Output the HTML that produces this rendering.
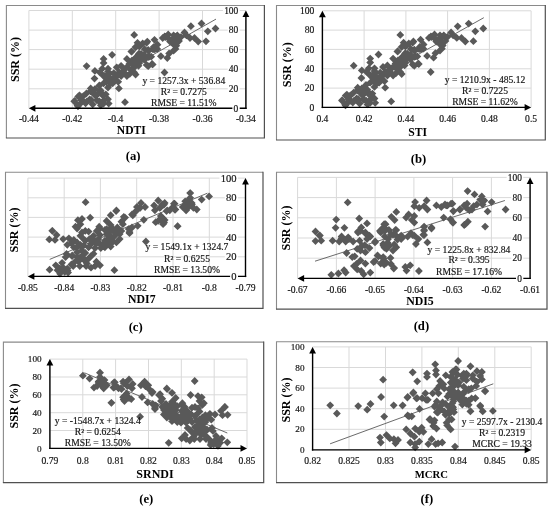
<!DOCTYPE html>
<html><head><meta charset="utf-8"><title>SSR scatter plots</title>
<style>
html,body{margin:0;padding:0;background:#fff}
svg{display:block}
text{font-family:"Liberation Serif",serif}
.t{font-size:9.6px;fill:#151515;stroke:#151515;stroke-width:0.18px}
.e{font-size:9.6px;fill:#151515;stroke:#151515;stroke-width:0.18px}
.b{font-size:12px;font-weight:bold;fill:#000}
</style></head><body>
<svg width="550" height="508" viewBox="0 0 550 508">
<rect width="550" height="508" fill="#fff"/>
<g id="panel-a">
<path d="M6.4 138.0V5.5H264.4" fill="none" stroke="#8a8a8a" stroke-width="1.1"/>
<path d="M264.4 5.0V138.0H5.9" fill="none" stroke="#505050" stroke-width="1.2"/>
<path d="M28.9 10.5V108.3M72.3 10.5V108.3M115.7 10.5V108.3M159.1 10.5V108.3M202.5 10.5V108.3M245.9 10.5V108.3M28.9 108.3H245.9M28.9 88.8H245.9M28.9 69.2H245.9M28.9 49.6H245.9M28.9 30.1H245.9M28.9 10.5H245.9" stroke="#d9d9d9" stroke-width="1" fill="none"/>
<line x1="74.5" y1="99.2" x2="216.0" y2="19.1" stroke="#595959" stroke-width="0.9"/>
<path d="M86.6 62.2l3.9 3.9l-3.9 3.9l-3.9 -3.9zM125.0 98.3l3.9 3.9l-3.9 3.9l-3.9 -3.9zM118.9 84.5l3.9 3.9l-3.9 3.9l-3.9 -3.9zM94.5 74.7l3.9 3.9l-3.9 3.9l-3.9 -3.9zM94.9 67.0l3.9 3.9l-3.9 3.9l-3.9 -3.9zM74.5 97.1l3.9 3.9l-3.9 3.9l-3.9 -3.9zM78.2 92.5l3.9 3.9l-3.9 3.9l-3.9 -3.9zM77.5 101.5l3.9 3.9l-3.9 3.9l-3.9 -3.9zM83.3 92.2l3.9 3.9l-3.9 3.9l-3.9 -3.9zM81.8 98.3l3.9 3.9l-3.9 3.9l-3.9 -3.9zM86.9 97.6l3.9 3.9l-3.9 3.9l-3.9 -3.9zM91.3 96.1l3.9 3.9l-3.9 3.9l-3.9 -3.9zM90.5 87.4l3.9 3.9l-3.9 3.9l-3.9 -3.9zM94.9 85.2l3.9 3.9l-3.9 3.9l-3.9 -3.9zM96.4 91.7l3.9 3.9l-3.9 3.9l-3.9 -3.9zM99.3 97.6l3.9 3.9l-3.9 3.9l-3.9 -3.9zM103.6 99.7l3.9 3.9l-3.9 3.9l-3.9 -3.9zM108.7 99.7l3.9 3.9l-3.9 3.9l-3.9 -3.9zM108.0 95.4l3.9 3.9l-3.9 3.9l-3.9 -3.9zM103.6 91.0l3.9 3.9l-3.9 3.9l-3.9 -3.9zM100.7 86.6l3.9 3.9l-3.9 3.9l-3.9 -3.9zM99.3 81.6l3.9 3.9l-3.9 3.9l-3.9 -3.9zM103.6 79.4l3.9 3.9l-3.9 3.9l-3.9 -3.9zM108.0 83.7l3.9 3.9l-3.9 3.9l-3.9 -3.9zM110.9 79.4l3.9 3.9l-3.9 3.9l-3.9 -3.9zM115.3 76.5l3.9 3.9l-3.9 3.9l-3.9 -3.9zM118.2 77.9l3.9 3.9l-3.9 3.9l-3.9 -3.9zM103.6 72.1l3.9 3.9l-3.9 3.9l-3.9 -3.9zM102.2 64.8l3.9 3.9l-3.9 3.9l-3.9 -3.9zM108.0 64.8l3.9 3.9l-3.9 3.9l-3.9 -3.9zM108.0 70.6l3.9 3.9l-3.9 3.9l-3.9 -3.9zM113.8 69.2l3.9 3.9l-3.9 3.9l-3.9 -3.9zM118.2 70.6l3.9 3.9l-3.9 3.9l-3.9 -3.9zM122.5 67.7l3.9 3.9l-3.9 3.9l-3.9 -3.9zM126.9 72.1l3.9 3.9l-3.9 3.9l-3.9 -3.9zM131.3 66.3l3.9 3.9l-3.9 3.9l-3.9 -3.9zM134.2 68.5l3.9 3.9l-3.9 3.9l-3.9 -3.9zM126.9 63.4l3.9 3.9l-3.9 3.9l-3.9 -3.9zM121.1 61.9l3.9 3.9l-3.9 3.9l-3.9 -3.9zM103.6 59.0l3.9 3.9l-3.9 3.9l-3.9 -3.9zM138.5 61.9l3.9 3.9l-3.9 3.9l-3.9 -3.9zM132.7 60.5l3.9 3.9l-3.9 3.9l-3.9 -3.9zM116.7 63.4l3.9 3.9l-3.9 3.9l-3.9 -3.9zM134.2 31.0l3.9 3.9l-3.9 3.9l-3.9 -3.9zM112.1 50.9l3.9 3.9l-3.9 3.9l-3.9 -3.9zM103.6 55.0l3.9 3.9l-3.9 3.9l-3.9 -3.9zM135.6 43.4l3.9 3.9l-3.9 3.9l-3.9 -3.9zM131.3 47.7l3.9 3.9l-3.9 3.9l-3.9 -3.9zM138.5 50.6l3.9 3.9l-3.9 3.9l-3.9 -3.9zM126.9 55.0l3.9 3.9l-3.9 3.9l-3.9 -3.9zM190.9 22.3l3.9 3.9l-3.9 3.9l-3.9 -3.9zM201.5 19.6l3.9 3.9l-3.9 3.9l-3.9 -3.9zM207.8 27.4l3.9 3.9l-3.9 3.9l-3.9 -3.9zM215.5 24.6l3.9 3.9l-3.9 3.9l-3.9 -3.9zM206.0 37.4l3.9 3.9l-3.9 3.9l-3.9 -3.9zM198.2 37.7l3.9 3.9l-3.9 3.9l-3.9 -3.9zM194.5 34.1l3.9 3.9l-3.9 3.9l-3.9 -3.9zM190.0 34.1l3.9 3.9l-3.9 3.9l-3.9 -3.9zM184.5 28.6l3.9 3.9l-3.9 3.9l-3.9 -3.9zM186.4 31.4l3.9 3.9l-3.9 3.9l-3.9 -3.9zM180.9 33.2l3.9 3.9l-3.9 3.9l-3.9 -3.9zM177.3 31.4l3.9 3.9l-3.9 3.9l-3.9 -3.9zM173.6 31.4l3.9 3.9l-3.9 3.9l-3.9 -3.9zM172.7 35.9l3.9 3.9l-3.9 3.9l-3.9 -3.9zM168.2 30.5l3.9 3.9l-3.9 3.9l-3.9 -3.9zM165.5 33.2l3.9 3.9l-3.9 3.9l-3.9 -3.9zM162.7 34.1l3.9 3.9l-3.9 3.9l-3.9 -3.9zM177.3 38.6l3.9 3.9l-3.9 3.9l-3.9 -3.9zM173.6 40.5l3.9 3.9l-3.9 3.9l-3.9 -3.9zM170.0 37.7l3.9 3.9l-3.9 3.9l-3.9 -3.9zM154.5 35.9l3.9 3.9l-3.9 3.9l-3.9 -3.9zM153.6 43.2l3.9 3.9l-3.9 3.9l-3.9 -3.9zM147.3 37.7l3.9 3.9l-3.9 3.9l-3.9 -3.9zM142.7 39.6l3.9 3.9l-3.9 3.9l-3.9 -3.9zM148.2 45.9l3.9 3.9l-3.9 3.9l-3.9 -3.9zM157.3 45.0l3.9 3.9l-3.9 3.9l-3.9 -3.9zM160.9 52.3l3.9 3.9l-3.9 3.9l-3.9 -3.9zM167.3 54.1l3.9 3.9l-3.9 3.9l-3.9 -3.9zM169.1 49.6l3.9 3.9l-3.9 3.9l-3.9 -3.9zM173.6 46.8l3.9 3.9l-3.9 3.9l-3.9 -3.9zM175.5 45.0l3.9 3.9l-3.9 3.9l-3.9 -3.9zM135.5 43.2l3.9 3.9l-3.9 3.9l-3.9 -3.9zM131.8 47.7l3.9 3.9l-3.9 3.9l-3.9 -3.9zM139.1 49.6l3.9 3.9l-3.9 3.9l-3.9 -3.9zM144.5 51.4l3.9 3.9l-3.9 3.9l-3.9 -3.9zM148.2 53.2l3.9 3.9l-3.9 3.9l-3.9 -3.9zM140.9 55.0l3.9 3.9l-3.9 3.9l-3.9 -3.9zM137.3 58.6l3.9 3.9l-3.9 3.9l-3.9 -3.9zM131.8 56.8l3.9 3.9l-3.9 3.9l-3.9 -3.9zM148.2 62.3l3.9 3.9l-3.9 3.9l-3.9 -3.9zM152.7 60.5l3.9 3.9l-3.9 3.9l-3.9 -3.9zM164.5 68.6l3.9 3.9l-3.9 3.9l-3.9 -3.9zM133.6 64.1l3.9 3.9l-3.9 3.9l-3.9 -3.9zM124.0 68.5l3.9 3.9l-3.9 3.9l-3.9 -3.9zM129.8 69.9l3.9 3.9l-3.9 3.9l-3.9 -3.9zM132.7 64.8l3.9 3.9l-3.9 3.9l-3.9 -3.9zM135.6 70.6l3.9 3.9l-3.9 3.9l-3.9 -3.9zM121.1 72.1l3.9 3.9l-3.9 3.9l-3.9 -3.9zM125.5 64.8l3.9 3.9l-3.9 3.9l-3.9 -3.9zM113.8 73.6l3.9 3.9l-3.9 3.9l-3.9 -3.9zM109.5 76.5l3.9 3.9l-3.9 3.9l-3.9 -3.9zM109.9 73.9l3.9 3.9l-3.9 3.9l-3.9 -3.9zM106.2 77.6l3.9 3.9l-3.9 3.9l-3.9 -3.9zM99.7 68.4l3.9 3.9l-3.9 3.9l-3.9 -3.9zM104.3 72.1l3.9 3.9l-3.9 3.9l-3.9 -3.9zM108.0 67.5l3.9 3.9l-3.9 3.9l-3.9 -3.9zM122.9 63.8l3.9 3.9l-3.9 3.9l-3.9 -3.9zM119.2 68.4l3.9 3.9l-3.9 3.9l-3.9 -3.9zM115.5 73.0l3.9 3.9l-3.9 3.9l-3.9 -3.9zM112.7 79.4l3.9 3.9l-3.9 3.9l-3.9 -3.9zM135.7 53.7l3.9 3.9l-3.9 3.9l-3.9 -3.9zM141.2 50.0l3.9 3.9l-3.9 3.9l-3.9 -3.9zM144.8 55.5l3.9 3.9l-3.9 3.9l-3.9 -3.9zM148.4 47.2l3.9 3.9l-3.9 3.9l-3.9 -3.9zM138.4 59.2l3.9 3.9l-3.9 3.9l-3.9 -3.9zM90.3 96.9l3.9 3.9l-3.9 3.9l-3.9 -3.9zM99.7 97.8l3.9 3.9l-3.9 3.9l-3.9 -3.9zM94.9 91.3l3.9 3.9l-3.9 3.9l-3.9 -3.9zM102.5 91.3l3.9 3.9l-3.9 3.9l-3.9 -3.9zM82.7 96.9l3.9 3.9l-3.9 3.9l-3.9 -3.9zM129.3 60.1l3.9 3.9l-3.9 3.9l-3.9 -3.9zM151.2 52.8l3.9 3.9l-3.9 3.9l-3.9 -3.9zM154.8 45.4l3.9 3.9l-3.9 3.9l-3.9 -3.9zM139.4 42.7l3.9 3.9l-3.9 3.9l-3.9 -3.9zM144.8 45.4l3.9 3.9l-3.9 3.9l-3.9 -3.9zM141.2 50.9l3.9 3.9l-3.9 3.9l-3.9 -3.9zM136.6 54.6l3.9 3.9l-3.9 3.9l-3.9 -3.9zM143.9 55.5l3.9 3.9l-3.9 3.9l-3.9 -3.9zM149.4 52.8l3.9 3.9l-3.9 3.9l-3.9 -3.9zM139.4 59.2l3.9 3.9l-3.9 3.9l-3.9 -3.9zM146.6 61.0l3.9 3.9l-3.9 3.9l-3.9 -3.9zM152.1 60.1l3.9 3.9l-3.9 3.9l-3.9 -3.9zM137.5 38.9l3.9 3.9l-3.9 3.9l-3.9 -3.9zM146.6 38.9l3.9 3.9l-3.9 3.9l-3.9 -3.9zM164.7 32.6l3.9 3.9l-3.9 3.9l-3.9 -3.9zM170.1 36.2l3.9 3.9l-3.9 3.9l-3.9 -3.9zM174.5 33.5l3.9 3.9l-3.9 3.9l-3.9 -3.9zM179.0 37.1l3.9 3.9l-3.9 3.9l-3.9 -3.9zM176.3 41.8l3.9 3.9l-3.9 3.9l-3.9 -3.9zM157.5 40.8l3.9 3.9l-3.9 3.9l-3.9 -3.9zM153.0 45.4l3.9 3.9l-3.9 3.9l-3.9 -3.9zM74.2 97.4l3.9 3.9l-3.9 3.9l-3.9 -3.9zM78.0 102.4l3.9 3.9l-3.9 3.9l-3.9 -3.9zM81.5 96.4l3.9 3.9l-3.9 3.9l-3.9 -3.9zM79.5 91.4l3.9 3.9l-3.9 3.9l-3.9 -3.9zM85.6 99.4l3.9 3.9l-3.9 3.9l-3.9 -3.9zM89.7 95.4l3.9 3.9l-3.9 3.9l-3.9 -3.9zM86.5 89.4l3.9 3.9l-3.9 3.9l-3.9 -3.9zM92.7 100.5l3.9 3.9l-3.9 3.9l-3.9 -3.9zM96.8 96.4l3.9 3.9l-3.9 3.9l-3.9 -3.9zM100.8 101.4l3.9 3.9l-3.9 3.9l-3.9 -3.9zM103.9 96.4l3.9 3.9l-3.9 3.9l-3.9 -3.9zM94.7 90.4l3.9 3.9l-3.9 3.9l-3.9 -3.9zM99.8 87.5l3.9 3.9l-3.9 3.9l-3.9 -3.9zM90.7 84.5l3.9 3.9l-3.9 3.9l-3.9 -3.9zM105.8 90.4l3.9 3.9l-3.9 3.9l-3.9 -3.9z" fill="#595959"/>
<path d="M246.6 108.3H34.4" stroke="#000" stroke-width="1.4" fill="none"/>
<path d="M28.9 108.3l6.5 -3.4v6.8z" fill="#000"/>
<path d="M245.9 109.0V16.0" stroke="#000" stroke-width="1.4" fill="none"/>
<path d="M245.9 10.5l-3.4 6.5h6.8z" fill="#000"/>
<text x="28.9" y="122.0" text-anchor="middle" class="t">-0.44</text>
<text x="72.3" y="122.0" text-anchor="middle" class="t">-0.42</text>
<text x="115.7" y="122.0" text-anchor="middle" class="t">-0.4</text>
<text x="159.1" y="122.0" text-anchor="middle" class="t">-0.38</text>
<text x="202.5" y="122.0" text-anchor="middle" class="t">-0.36</text>
<text x="245.9" y="122.0" text-anchor="middle" class="t">-0.34</text>
<rect x="232.4" y="104.3" width="7.3" height="8" fill="#fff"/>
<text x="238.3" y="111.5" text-anchor="end" class="t" style="font-size:9.45px">0</text>
<rect x="227.7" y="84.8" width="12.0" height="8" fill="#fff"/>
<text x="238.3" y="91.9" text-anchor="end" class="t" style="font-size:9.45px">20</text>
<rect x="227.7" y="65.2" width="12.0" height="8" fill="#fff"/>
<text x="238.3" y="72.4" text-anchor="end" class="t" style="font-size:9.45px">40</text>
<rect x="227.7" y="45.6" width="12.0" height="8" fill="#fff"/>
<text x="238.3" y="52.8" text-anchor="end" class="t" style="font-size:9.45px">60</text>
<rect x="227.7" y="26.1" width="12.0" height="8" fill="#fff"/>
<text x="238.3" y="33.3" text-anchor="end" class="t" style="font-size:9.45px">80</text>
<rect x="222.9" y="6.5" width="16.8" height="8" fill="#fff"/>
<text x="238.3" y="13.7" text-anchor="end" class="t" style="font-size:9.45px">100</text>
<text x="131.3" y="133.5" text-anchor="middle" class="b" style="font-size:11.6px">NDTI</text>
<text transform="translate(18.8 59.5) rotate(-90)" text-anchor="middle" class="b">SSR (%)</text>
<text x="183.8" y="83.7" text-anchor="middle" class="e">y = 1257.3x + 536.84</text>
<text x="183.8" y="94.8" text-anchor="middle" class="e">R² = 0.7275</text>
<text x="183.8" y="105.9" text-anchor="middle" class="e">RMSE = 11.51%</text>
<text x="133.1" y="160.2" text-anchor="middle" class="b" style="font-size:12.7px">(a)</text>
</g>
<g id="panel-b">
<path d="M276.5 140.0V5.5H545.3" fill="none" stroke="#8a8a8a" stroke-width="1.1"/>
<path d="M545.3 5.0V140.0H276.0" fill="none" stroke="#505050" stroke-width="1.2"/>
<path d="M322.4 10.8V107.4M364.1 10.8V107.4M405.9 10.8V107.4M447.6 10.8V107.4M489.4 10.8V107.4M531.1 10.8V107.4M322.4 107.4H531.1M322.4 88.1H531.1M322.4 68.8H531.1M322.4 49.4H531.1M322.4 30.1H531.1M322.4 10.8H531.1" stroke="#d9d9d9" stroke-width="1" fill="none"/>
<line x1="346.4" y1="94.7" x2="483.8" y2="17.7" stroke="#595959" stroke-width="0.9"/>
<path d="M353.7 61.8l3.9 3.9l-3.9 3.9l-3.9 -3.9zM391.2 97.5l3.9 3.9l-3.9 3.9l-3.9 -3.9zM385.2 83.8l3.9 3.9l-3.9 3.9l-3.9 -3.9zM361.4 74.1l3.9 3.9l-3.9 3.9l-3.9 -3.9zM361.8 66.5l3.9 3.9l-3.9 3.9l-3.9 -3.9zM342.1 96.3l3.9 3.9l-3.9 3.9l-3.9 -3.9zM345.7 91.7l3.9 3.9l-3.9 3.9l-3.9 -3.9zM345.0 100.6l3.9 3.9l-3.9 3.9l-3.9 -3.9zM350.6 91.4l3.9 3.9l-3.9 3.9l-3.9 -3.9zM349.1 97.5l3.9 3.9l-3.9 3.9l-3.9 -3.9zM354.0 96.8l3.9 3.9l-3.9 3.9l-3.9 -3.9zM358.3 95.3l3.9 3.9l-3.9 3.9l-3.9 -3.9zM357.5 86.7l3.9 3.9l-3.9 3.9l-3.9 -3.9zM361.8 84.5l3.9 3.9l-3.9 3.9l-3.9 -3.9zM363.2 90.9l3.9 3.9l-3.9 3.9l-3.9 -3.9zM366.0 96.8l3.9 3.9l-3.9 3.9l-3.9 -3.9zM370.2 98.9l3.9 3.9l-3.9 3.9l-3.9 -3.9zM375.2 98.9l3.9 3.9l-3.9 3.9l-3.9 -3.9zM374.5 94.6l3.9 3.9l-3.9 3.9l-3.9 -3.9zM370.2 90.3l3.9 3.9l-3.9 3.9l-3.9 -3.9zM367.4 85.9l3.9 3.9l-3.9 3.9l-3.9 -3.9zM366.0 81.0l3.9 3.9l-3.9 3.9l-3.9 -3.9zM370.2 78.8l3.9 3.9l-3.9 3.9l-3.9 -3.9zM374.5 83.0l3.9 3.9l-3.9 3.9l-3.9 -3.9zM377.3 78.8l3.9 3.9l-3.9 3.9l-3.9 -3.9zM381.7 75.9l3.9 3.9l-3.9 3.9l-3.9 -3.9zM384.5 77.3l3.9 3.9l-3.9 3.9l-3.9 -3.9zM370.2 71.6l3.9 3.9l-3.9 3.9l-3.9 -3.9zM368.8 64.4l3.9 3.9l-3.9 3.9l-3.9 -3.9zM374.5 64.4l3.9 3.9l-3.9 3.9l-3.9 -3.9zM374.5 70.1l3.9 3.9l-3.9 3.9l-3.9 -3.9zM380.2 68.7l3.9 3.9l-3.9 3.9l-3.9 -3.9zM384.5 70.1l3.9 3.9l-3.9 3.9l-3.9 -3.9zM388.7 67.2l3.9 3.9l-3.9 3.9l-3.9 -3.9zM393.1 71.6l3.9 3.9l-3.9 3.9l-3.9 -3.9zM397.4 65.8l3.9 3.9l-3.9 3.9l-3.9 -3.9zM400.3 68.0l3.9 3.9l-3.9 3.9l-3.9 -3.9zM393.1 63.0l3.9 3.9l-3.9 3.9l-3.9 -3.9zM387.4 61.5l3.9 3.9l-3.9 3.9l-3.9 -3.9zM370.2 58.6l3.9 3.9l-3.9 3.9l-3.9 -3.9zM404.6 61.5l3.9 3.9l-3.9 3.9l-3.9 -3.9zM398.8 60.1l3.9 3.9l-3.9 3.9l-3.9 -3.9zM383.0 63.0l3.9 3.9l-3.9 3.9l-3.9 -3.9zM400.3 31.0l3.9 3.9l-3.9 3.9l-3.9 -3.9zM378.5 50.6l3.9 3.9l-3.9 3.9l-3.9 -3.9zM370.2 54.7l3.9 3.9l-3.9 3.9l-3.9 -3.9zM401.7 43.2l3.9 3.9l-3.9 3.9l-3.9 -3.9zM397.4 47.5l3.9 3.9l-3.9 3.9l-3.9 -3.9zM404.6 50.3l3.9 3.9l-3.9 3.9l-3.9 -3.9zM393.1 54.7l3.9 3.9l-3.9 3.9l-3.9 -3.9zM457.7 22.4l3.9 3.9l-3.9 3.9l-3.9 -3.9zM468.7 19.7l3.9 3.9l-3.9 3.9l-3.9 -3.9zM475.3 27.4l3.9 3.9l-3.9 3.9l-3.9 -3.9zM483.3 24.6l3.9 3.9l-3.9 3.9l-3.9 -3.9zM473.4 37.3l3.9 3.9l-3.9 3.9l-3.9 -3.9zM465.3 37.6l3.9 3.9l-3.9 3.9l-3.9 -3.9zM461.5 34.0l3.9 3.9l-3.9 3.9l-3.9 -3.9zM456.8 34.0l3.9 3.9l-3.9 3.9l-3.9 -3.9zM451.1 28.6l3.9 3.9l-3.9 3.9l-3.9 -3.9zM453.1 31.4l3.9 3.9l-3.9 3.9l-3.9 -3.9zM447.4 33.1l3.9 3.9l-3.9 3.9l-3.9 -3.9zM443.8 31.4l3.9 3.9l-3.9 3.9l-3.9 -3.9zM440.0 31.4l3.9 3.9l-3.9 3.9l-3.9 -3.9zM439.1 35.8l3.9 3.9l-3.9 3.9l-3.9 -3.9zM434.5 30.5l3.9 3.9l-3.9 3.9l-3.9 -3.9zM431.7 33.1l3.9 3.9l-3.9 3.9l-3.9 -3.9zM428.9 34.0l3.9 3.9l-3.9 3.9l-3.9 -3.9zM443.8 38.5l3.9 3.9l-3.9 3.9l-3.9 -3.9zM440.0 40.4l3.9 3.9l-3.9 3.9l-3.9 -3.9zM436.3 37.6l3.9 3.9l-3.9 3.9l-3.9 -3.9zM420.6 35.8l3.9 3.9l-3.9 3.9l-3.9 -3.9zM419.7 43.0l3.9 3.9l-3.9 3.9l-3.9 -3.9zM413.4 37.6l3.9 3.9l-3.9 3.9l-3.9 -3.9zM408.8 39.5l3.9 3.9l-3.9 3.9l-3.9 -3.9zM414.3 45.7l3.9 3.9l-3.9 3.9l-3.9 -3.9zM423.4 44.8l3.9 3.9l-3.9 3.9l-3.9 -3.9zM427.1 52.0l3.9 3.9l-3.9 3.9l-3.9 -3.9zM433.6 53.8l3.9 3.9l-3.9 3.9l-3.9 -3.9zM435.4 49.3l3.9 3.9l-3.9 3.9l-3.9 -3.9zM440.0 46.6l3.9 3.9l-3.9 3.9l-3.9 -3.9zM441.9 44.8l3.9 3.9l-3.9 3.9l-3.9 -3.9zM401.6 43.0l3.9 3.9l-3.9 3.9l-3.9 -3.9zM397.9 47.5l3.9 3.9l-3.9 3.9l-3.9 -3.9zM405.2 49.3l3.9 3.9l-3.9 3.9l-3.9 -3.9zM410.6 51.1l3.9 3.9l-3.9 3.9l-3.9 -3.9zM414.3 52.9l3.9 3.9l-3.9 3.9l-3.9 -3.9zM407.0 54.7l3.9 3.9l-3.9 3.9l-3.9 -3.9zM403.4 58.2l3.9 3.9l-3.9 3.9l-3.9 -3.9zM397.9 56.5l3.9 3.9l-3.9 3.9l-3.9 -3.9zM414.3 61.9l3.9 3.9l-3.9 3.9l-3.9 -3.9zM418.8 60.1l3.9 3.9l-3.9 3.9l-3.9 -3.9zM430.7 68.1l3.9 3.9l-3.9 3.9l-3.9 -3.9zM399.7 63.7l3.9 3.9l-3.9 3.9l-3.9 -3.9zM390.2 68.0l3.9 3.9l-3.9 3.9l-3.9 -3.9zM395.9 69.4l3.9 3.9l-3.9 3.9l-3.9 -3.9zM398.8 64.4l3.9 3.9l-3.9 3.9l-3.9 -3.9zM401.7 70.1l3.9 3.9l-3.9 3.9l-3.9 -3.9zM387.4 71.6l3.9 3.9l-3.9 3.9l-3.9 -3.9zM391.7 64.4l3.9 3.9l-3.9 3.9l-3.9 -3.9zM380.2 73.1l3.9 3.9l-3.9 3.9l-3.9 -3.9zM376.0 75.9l3.9 3.9l-3.9 3.9l-3.9 -3.9zM376.4 73.4l3.9 3.9l-3.9 3.9l-3.9 -3.9zM372.7 77.0l3.9 3.9l-3.9 3.9l-3.9 -3.9zM366.4 67.9l3.9 3.9l-3.9 3.9l-3.9 -3.9zM370.9 71.6l3.9 3.9l-3.9 3.9l-3.9 -3.9zM374.5 67.0l3.9 3.9l-3.9 3.9l-3.9 -3.9zM389.1 63.4l3.9 3.9l-3.9 3.9l-3.9 -3.9zM385.5 67.9l3.9 3.9l-3.9 3.9l-3.9 -3.9zM381.8 72.5l3.9 3.9l-3.9 3.9l-3.9 -3.9zM379.1 78.8l3.9 3.9l-3.9 3.9l-3.9 -3.9zM401.8 53.4l3.9 3.9l-3.9 3.9l-3.9 -3.9zM407.3 49.7l3.9 3.9l-3.9 3.9l-3.9 -3.9zM410.9 55.2l3.9 3.9l-3.9 3.9l-3.9 -3.9zM414.5 47.0l3.9 3.9l-3.9 3.9l-3.9 -3.9zM404.5 58.8l3.9 3.9l-3.9 3.9l-3.9 -3.9zM357.3 96.1l3.9 3.9l-3.9 3.9l-3.9 -3.9zM366.4 97.0l3.9 3.9l-3.9 3.9l-3.9 -3.9zM361.8 90.6l3.9 3.9l-3.9 3.9l-3.9 -3.9zM369.1 90.6l3.9 3.9l-3.9 3.9l-3.9 -3.9zM350.0 96.1l3.9 3.9l-3.9 3.9l-3.9 -3.9zM395.5 59.7l3.9 3.9l-3.9 3.9l-3.9 -3.9zM417.3 52.5l3.9 3.9l-3.9 3.9l-3.9 -3.9zM420.9 45.2l3.9 3.9l-3.9 3.9l-3.9 -3.9zM405.5 42.5l3.9 3.9l-3.9 3.9l-3.9 -3.9zM410.9 45.2l3.9 3.9l-3.9 3.9l-3.9 -3.9zM407.3 50.6l3.9 3.9l-3.9 3.9l-3.9 -3.9zM402.7 54.3l3.9 3.9l-3.9 3.9l-3.9 -3.9zM410.0 55.2l3.9 3.9l-3.9 3.9l-3.9 -3.9zM415.5 52.5l3.9 3.9l-3.9 3.9l-3.9 -3.9zM405.5 58.8l3.9 3.9l-3.9 3.9l-3.9 -3.9zM412.7 60.6l3.9 3.9l-3.9 3.9l-3.9 -3.9zM418.2 59.7l3.9 3.9l-3.9 3.9l-3.9 -3.9zM403.6 38.8l3.9 3.9l-3.9 3.9l-3.9 -3.9zM412.7 38.8l3.9 3.9l-3.9 3.9l-3.9 -3.9zM430.9 32.5l3.9 3.9l-3.9 3.9l-3.9 -3.9zM436.4 36.1l3.9 3.9l-3.9 3.9l-3.9 -3.9zM440.9 33.4l3.9 3.9l-3.9 3.9l-3.9 -3.9zM445.5 37.0l3.9 3.9l-3.9 3.9l-3.9 -3.9zM442.7 41.6l3.9 3.9l-3.9 3.9l-3.9 -3.9zM423.6 40.6l3.9 3.9l-3.9 3.9l-3.9 -3.9zM419.1 45.2l3.9 3.9l-3.9 3.9l-3.9 -3.9zM341.9 96.6l3.9 3.9l-3.9 3.9l-3.9 -3.9zM345.5 101.5l3.9 3.9l-3.9 3.9l-3.9 -3.9zM348.8 95.6l3.9 3.9l-3.9 3.9l-3.9 -3.9zM346.9 90.7l3.9 3.9l-3.9 3.9l-3.9 -3.9zM352.8 98.6l3.9 3.9l-3.9 3.9l-3.9 -3.9zM356.7 94.6l3.9 3.9l-3.9 3.9l-3.9 -3.9zM353.7 88.7l3.9 3.9l-3.9 3.9l-3.9 -3.9zM359.6 99.6l3.9 3.9l-3.9 3.9l-3.9 -3.9zM363.6 95.6l3.9 3.9l-3.9 3.9l-3.9 -3.9zM367.5 100.5l3.9 3.9l-3.9 3.9l-3.9 -3.9zM370.5 95.6l3.9 3.9l-3.9 3.9l-3.9 -3.9zM361.6 89.7l3.9 3.9l-3.9 3.9l-3.9 -3.9zM366.5 86.8l3.9 3.9l-3.9 3.9l-3.9 -3.9zM357.7 83.8l3.9 3.9l-3.9 3.9l-3.9 -3.9zM372.4 89.7l3.9 3.9l-3.9 3.9l-3.9 -3.9z" fill="#595959"/>
<path d="M321.7 107.4H525.6" stroke="#000" stroke-width="1.4" fill="none"/>
<path d="M531.1 107.4l-6.5 -3.4v6.8z" fill="#000"/>
<path d="M322.4 108.1V16.3" stroke="#000" stroke-width="1.4" fill="none"/>
<path d="M322.4 10.8l-3.4 6.5h6.8z" fill="#000"/>
<text x="322.4" y="121.8" text-anchor="middle" class="t">0.4</text>
<text x="364.1" y="121.8" text-anchor="middle" class="t">0.42</text>
<text x="405.9" y="121.8" text-anchor="middle" class="t">0.44</text>
<text x="447.6" y="121.8" text-anchor="middle" class="t">0.46</text>
<text x="489.4" y="121.8" text-anchor="middle" class="t">0.48</text>
<text x="531.1" y="121.8" text-anchor="middle" class="t">0.5</text>
<text x="314.4" y="110.6" text-anchor="end" class="t" style="font-size:9.6px">0</text>
<text x="314.4" y="91.3" text-anchor="end" class="t" style="font-size:9.6px">20</text>
<text x="314.4" y="72.0" text-anchor="end" class="t" style="font-size:9.6px">40</text>
<text x="314.4" y="52.7" text-anchor="end" class="t" style="font-size:9.6px">60</text>
<text x="314.4" y="33.3" text-anchor="end" class="t" style="font-size:9.6px">80</text>
<text x="314.4" y="14.0" text-anchor="end" class="t" style="font-size:9.6px">100</text>
<text x="417.6" y="135.8" text-anchor="middle" class="b" style="font-size:11.7px">STI</text>
<text transform="translate(291.3 64.7) rotate(-90)" text-anchor="middle" class="b">SSR (%)</text>
<text x="485" y="83.1" text-anchor="middle" class="e">y = 1210.9x - 485.12</text>
<text x="485" y="94.0" text-anchor="middle" class="e">R² = 0.7225</text>
<text x="485" y="104.9" text-anchor="middle" class="e">RMSE = 11.62%</text>
<text x="418.5" y="162.5" text-anchor="middle" class="b" style="font-size:12.7px">(b)</text>
</g>
<g id="panel-c">
<path d="M5.5 308.3V172.3H263.0" fill="none" stroke="#8a8a8a" stroke-width="1.1"/>
<path d="M263.0 171.8V308.3H5.0" fill="none" stroke="#505050" stroke-width="1.2"/>
<path d="M27.9 178.1V276.4M64.2 178.1V276.4M100.4 178.1V276.4M136.7 178.1V276.4M173.0 178.1V276.4M209.3 178.1V276.4M245.5 178.1V276.4M27.9 276.4H245.5M27.9 256.8H245.5M27.9 237.1H245.5M27.9 217.4H245.5M27.9 197.8H245.5M27.9 178.1H245.5" stroke="#d9d9d9" stroke-width="1" fill="none"/>
<line x1="49.7" y1="259.4" x2="207.4" y2="193.2" stroke="#595959" stroke-width="0.9"/>
<path d="M49.6 265.8l3.9 3.9l-3.9 3.9l-3.9 -3.9zM52.5 227.0l3.9 3.9l-3.9 3.9l-3.9 -3.9zM56.6 231.1l3.9 3.9l-3.9 3.9l-3.9 -3.9zM49.3 235.5l3.9 3.9l-3.9 3.9l-3.9 -3.9zM55.0 236.0l3.9 3.9l-3.9 3.9l-3.9 -3.9zM114.4 266.3l3.9 3.9l-3.9 3.9l-3.9 -3.9zM55.8 261.4l3.9 3.9l-3.9 3.9l-3.9 -3.9zM59.9 264.7l3.9 3.9l-3.9 3.9l-3.9 -3.9zM59.9 269.6l3.9 3.9l-3.9 3.9l-3.9 -3.9zM64.8 267.9l3.9 3.9l-3.9 3.9l-3.9 -3.9zM67.3 264.7l3.9 3.9l-3.9 3.9l-3.9 -3.9zM71.4 260.6l3.9 3.9l-3.9 3.9l-3.9 -3.9zM65.6 253.2l3.9 3.9l-3.9 3.9l-3.9 -3.9zM75.5 257.3l3.9 3.9l-3.9 3.9l-3.9 -3.9zM80.4 253.2l3.9 3.9l-3.9 3.9l-3.9 -3.9zM85.3 257.3l3.9 3.9l-3.9 3.9l-3.9 -3.9zM86.1 262.2l3.9 3.9l-3.9 3.9l-3.9 -3.9zM91.0 263.8l3.9 3.9l-3.9 3.9l-3.9 -3.9zM95.1 262.2l3.9 3.9l-3.9 3.9l-3.9 -3.9zM100.0 261.4l3.9 3.9l-3.9 3.9l-3.9 -3.9zM91.0 252.4l3.9 3.9l-3.9 3.9l-3.9 -3.9zM85.3 249.1l3.9 3.9l-3.9 3.9l-3.9 -3.9zM77.1 248.3l3.9 3.9l-3.9 3.9l-3.9 -3.9zM73.8 243.4l3.9 3.9l-3.9 3.9l-3.9 -3.9zM67.3 240.9l3.9 3.9l-3.9 3.9l-3.9 -3.9zM63.2 235.2l3.9 3.9l-3.9 3.9l-3.9 -3.9zM68.9 234.4l3.9 3.9l-3.9 3.9l-3.9 -3.9zM73.8 236.0l3.9 3.9l-3.9 3.9l-3.9 -3.9zM80.4 231.9l3.9 3.9l-3.9 3.9l-3.9 -3.9zM85.3 236.8l3.9 3.9l-3.9 3.9l-3.9 -3.9zM80.4 240.9l3.9 3.9l-3.9 3.9l-3.9 -3.9zM91.0 240.1l3.9 3.9l-3.9 3.9l-3.9 -3.9zM95.1 244.2l3.9 3.9l-3.9 3.9l-3.9 -3.9zM100.0 240.1l3.9 3.9l-3.9 3.9l-3.9 -3.9zM104.9 236.8l3.9 3.9l-3.9 3.9l-3.9 -3.9zM109.8 238.5l3.9 3.9l-3.9 3.9l-3.9 -3.9zM113.1 233.6l3.9 3.9l-3.9 3.9l-3.9 -3.9zM116.4 228.6l3.9 3.9l-3.9 3.9l-3.9 -3.9zM106.6 230.3l3.9 3.9l-3.9 3.9l-3.9 -3.9zM100.0 231.1l3.9 3.9l-3.9 3.9l-3.9 -3.9zM93.5 231.9l3.9 3.9l-3.9 3.9l-3.9 -3.9zM85.3 227.0l3.9 3.9l-3.9 3.9l-3.9 -3.9zM77.1 224.6l3.9 3.9l-3.9 3.9l-3.9 -3.9zM100.0 224.6l3.9 3.9l-3.9 3.9l-3.9 -3.9zM109.8 225.4l3.9 3.9l-3.9 3.9l-3.9 -3.9zM116.4 238.5l3.9 3.9l-3.9 3.9l-3.9 -3.9zM104.9 243.4l3.9 3.9l-3.9 3.9l-3.9 -3.9zM96.7 227.0l3.9 3.9l-3.9 3.9l-3.9 -3.9zM89.4 235.2l3.9 3.9l-3.9 3.9l-3.9 -3.9zM85.6 198.3l3.9 3.9l-3.9 3.9l-3.9 -3.9zM90.2 213.8l3.9 3.9l-3.9 3.9l-3.9 -3.9zM82.0 215.0l3.9 3.9l-3.9 3.9l-3.9 -3.9zM77.9 216.3l3.9 3.9l-3.9 3.9l-3.9 -3.9zM80.4 220.4l3.9 3.9l-3.9 3.9l-3.9 -3.9zM75.5 222.8l3.9 3.9l-3.9 3.9l-3.9 -3.9zM110.7 211.4l3.9 3.9l-3.9 3.9l-3.9 -3.9zM116.4 206.5l3.9 3.9l-3.9 3.9l-3.9 -3.9zM106.6 217.1l3.9 3.9l-3.9 3.9l-3.9 -3.9zM110.7 221.2l3.9 3.9l-3.9 3.9l-3.9 -3.9zM99.2 222.8l3.9 3.9l-3.9 3.9l-3.9 -3.9zM116.4 226.1l3.9 3.9l-3.9 3.9l-3.9 -3.9zM104.9 226.1l3.9 3.9l-3.9 3.9l-3.9 -3.9zM88.6 227.7l3.9 3.9l-3.9 3.9l-3.9 -3.9zM82.0 228.6l3.9 3.9l-3.9 3.9l-3.9 -3.9zM52.2 226.9l3.9 3.9l-3.9 3.9l-3.9 -3.9zM116.1 207.2l3.9 3.9l-3.9 3.9l-3.9 -3.9zM110.7 211.3l3.9 3.9l-3.9 3.9l-3.9 -3.9zM123.8 212.9l3.9 3.9l-3.9 3.9l-3.9 -3.9zM121.4 217.8l3.9 3.9l-3.9 3.9l-3.9 -3.9zM108.3 218.7l3.9 3.9l-3.9 3.9l-3.9 -3.9zM111.5 223.6l3.9 3.9l-3.9 3.9l-3.9 -3.9zM117.3 223.6l3.9 3.9l-3.9 3.9l-3.9 -3.9zM106.6 225.2l3.9 3.9l-3.9 3.9l-3.9 -3.9zM114.8 228.5l3.9 3.9l-3.9 3.9l-3.9 -3.9zM109.9 231.7l3.9 3.9l-3.9 3.9l-3.9 -3.9zM119.7 230.1l3.9 3.9l-3.9 3.9l-3.9 -3.9zM132.0 210.5l3.9 3.9l-3.9 3.9l-3.9 -3.9zM136.9 203.1l3.9 3.9l-3.9 3.9l-3.9 -3.9zM141.0 199.0l3.9 3.9l-3.9 3.9l-3.9 -3.9zM145.1 203.1l3.9 3.9l-3.9 3.9l-3.9 -3.9zM140.2 203.9l3.9 3.9l-3.9 3.9l-3.9 -3.9zM143.8 215.9l3.9 3.9l-3.9 3.9l-3.9 -3.9zM137.7 221.9l3.9 3.9l-3.9 3.9l-3.9 -3.9zM132.0 223.6l3.9 3.9l-3.9 3.9l-3.9 -3.9zM128.7 225.2l3.9 3.9l-3.9 3.9l-3.9 -3.9zM129.5 229.3l3.9 3.9l-3.9 3.9l-3.9 -3.9zM154.1 201.5l3.9 3.9l-3.9 3.9l-3.9 -3.9zM158.2 196.6l3.9 3.9l-3.9 3.9l-3.9 -3.9zM162.3 200.6l3.9 3.9l-3.9 3.9l-3.9 -3.9zM164.7 199.0l3.9 3.9l-3.9 3.9l-3.9 -3.9zM154.9 206.4l3.9 3.9l-3.9 3.9l-3.9 -3.9zM159.8 203.9l3.9 3.9l-3.9 3.9l-3.9 -3.9zM155.7 218.3l3.9 3.9l-3.9 3.9l-3.9 -3.9zM162.3 213.7l3.9 3.9l-3.9 3.9l-3.9 -3.9zM164.7 216.2l3.9 3.9l-3.9 3.9l-3.9 -3.9zM163.1 220.3l3.9 3.9l-3.9 3.9l-3.9 -3.9zM167.2 206.4l3.9 3.9l-3.9 3.9l-3.9 -3.9zM172.1 203.9l3.9 3.9l-3.9 3.9l-3.9 -3.9zM174.6 199.8l3.9 3.9l-3.9 3.9l-3.9 -3.9zM175.4 205.6l3.9 3.9l-3.9 3.9l-3.9 -3.9zM177.5 222.3l3.9 3.9l-3.9 3.9l-3.9 -3.9zM185.2 197.4l3.9 3.9l-3.9 3.9l-3.9 -3.9zM190.1 189.2l3.9 3.9l-3.9 3.9l-3.9 -3.9zM186.8 200.6l3.9 3.9l-3.9 3.9l-3.9 -3.9zM191.7 199.0l3.9 3.9l-3.9 3.9l-3.9 -3.9zM186.0 206.4l3.9 3.9l-3.9 3.9l-3.9 -3.9zM193.4 203.9l3.9 3.9l-3.9 3.9l-3.9 -3.9zM182.7 203.1l3.9 3.9l-3.9 3.9l-3.9 -3.9zM145.9 237.6l3.9 3.9l-3.9 3.9l-3.9 -3.9zM108.3 228.6l3.9 3.9l-3.9 3.9l-3.9 -3.9zM114.8 231.9l3.9 3.9l-3.9 3.9l-3.9 -3.9zM119.7 235.2l3.9 3.9l-3.9 3.9l-3.9 -3.9zM109.9 236.8l3.9 3.9l-3.9 3.9l-3.9 -3.9zM106.6 240.1l3.9 3.9l-3.9 3.9l-3.9 -3.9zM113.2 225.4l3.9 3.9l-3.9 3.9l-3.9 -3.9zM121.4 227.0l3.9 3.9l-3.9 3.9l-3.9 -3.9zM129.5 228.6l3.9 3.9l-3.9 3.9l-3.9 -3.9zM190.3 189.2l3.9 3.9l-3.9 3.9l-3.9 -3.9zM209.1 192.5l3.9 3.9l-3.9 3.9l-3.9 -3.9zM201.7 195.7l3.9 3.9l-3.9 3.9l-3.9 -3.9zM187.0 197.4l3.9 3.9l-3.9 3.9l-3.9 -3.9zM184.5 201.5l3.9 3.9l-3.9 3.9l-3.9 -3.9zM191.9 200.6l3.9 3.9l-3.9 3.9l-3.9 -3.9zM196.8 205.6l3.9 3.9l-3.9 3.9l-3.9 -3.9zM186.2 206.4l3.9 3.9l-3.9 3.9l-3.9 -3.9zM189.5 202.3l3.9 3.9l-3.9 3.9l-3.9 -3.9zM173.9 199.8l3.9 3.9l-3.9 3.9l-3.9 -3.9zM164.1 200.6l3.9 3.9l-3.9 3.9l-3.9 -3.9zM174.7 205.6l3.9 3.9l-3.9 3.9l-3.9 -3.9zM169.8 206.4l3.9 3.9l-3.9 3.9l-3.9 -3.9zM166.5 207.2l3.9 3.9l-3.9 3.9l-3.9 -3.9zM160.8 203.1l3.9 3.9l-3.9 3.9l-3.9 -3.9zM177.7 222.3l3.9 3.9l-3.9 3.9l-3.9 -3.9zM163.3 214.6l3.9 3.9l-3.9 3.9l-3.9 -3.9zM164.1 218.7l3.9 3.9l-3.9 3.9l-3.9 -3.9zM160.8 212.1l3.9 3.9l-3.9 3.9l-3.9 -3.9zM63.2 263.8l3.9 3.9l-3.9 3.9l-3.9 -3.9zM62.4 267.1l3.9 3.9l-3.9 3.9l-3.9 -3.9zM68.1 268.7l3.9 3.9l-3.9 3.9l-3.9 -3.9zM57.5 266.3l3.9 3.9l-3.9 3.9l-3.9 -3.9zM77.1 253.2l3.9 3.9l-3.9 3.9l-3.9 -3.9zM72.2 251.6l3.9 3.9l-3.9 3.9l-3.9 -3.9zM77.1 243.4l3.9 3.9l-3.9 3.9l-3.9 -3.9zM82.0 246.6l3.9 3.9l-3.9 3.9l-3.9 -3.9zM83.6 254.8l3.9 3.9l-3.9 3.9l-3.9 -3.9zM78.7 257.3l3.9 3.9l-3.9 3.9l-3.9 -3.9zM88.6 254.8l3.9 3.9l-3.9 3.9l-3.9 -3.9zM86.9 259.7l3.9 3.9l-3.9 3.9l-3.9 -3.9zM93.5 249.9l3.9 3.9l-3.9 3.9l-3.9 -3.9zM93.5 236.0l3.9 3.9l-3.9 3.9l-3.9 -3.9zM98.4 235.2l3.9 3.9l-3.9 3.9l-3.9 -3.9zM103.3 240.1l3.9 3.9l-3.9 3.9l-3.9 -3.9zM108.2 234.4l3.9 3.9l-3.9 3.9l-3.9 -3.9zM113.1 237.6l3.9 3.9l-3.9 3.9l-3.9 -3.9zM110.7 242.6l3.9 3.9l-3.9 3.9l-3.9 -3.9zM100.8 244.2l3.9 3.9l-3.9 3.9l-3.9 -3.9zM95.9 240.1l3.9 3.9l-3.9 3.9l-3.9 -3.9zM77.1 238.5l3.9 3.9l-3.9 3.9l-3.9 -3.9zM71.4 239.3l3.9 3.9l-3.9 3.9l-3.9 -3.9zM82.8 234.4l3.9 3.9l-3.9 3.9l-3.9 -3.9zM88.6 243.4l3.9 3.9l-3.9 3.9l-3.9 -3.9zM83.6 241.7l3.9 3.9l-3.9 3.9l-3.9 -3.9zM90.8 252.3l3.9 3.9l-3.9 3.9l-3.9 -3.9zM86.4 256.7l3.9 3.9l-3.9 3.9l-3.9 -3.9zM82.0 252.3l3.9 3.9l-3.9 3.9l-3.9 -3.9zM77.6 256.7l3.9 3.9l-3.9 3.9l-3.9 -3.9zM96.4 257.8l3.9 3.9l-3.9 3.9l-3.9 -3.9zM73.2 262.2l3.9 3.9l-3.9 3.9l-3.9 -3.9zM67.6 266.6l3.9 3.9l-3.9 3.9l-3.9 -3.9zM79.8 262.2l3.9 3.9l-3.9 3.9l-3.9 -3.9zM72.1 252.3l3.9 3.9l-3.9 3.9l-3.9 -3.9zM66.5 250.1l3.9 3.9l-3.9 3.9l-3.9 -3.9zM62.1 258.9l3.9 3.9l-3.9 3.9l-3.9 -3.9zM57.7 263.3l3.9 3.9l-3.9 3.9l-3.9 -3.9zM158.2 217.0l3.9 3.9l-3.9 3.9l-3.9 -3.9zM163.7 219.2l3.9 3.9l-3.9 3.9l-3.9 -3.9zM136.1 207.1l3.9 3.9l-3.9 3.9l-3.9 -3.9zM132.8 211.5l3.9 3.9l-3.9 3.9l-3.9 -3.9zM129.5 228.1l3.9 3.9l-3.9 3.9l-3.9 -3.9zM125.1 213.7l3.9 3.9l-3.9 3.9l-3.9 -3.9zM122.9 220.3l3.9 3.9l-3.9 3.9l-3.9 -3.9zM118.4 227.0l3.9 3.9l-3.9 3.9l-3.9 -3.9zM190.2 193.9l3.9 3.9l-3.9 3.9l-3.9 -3.9zM186.9 199.4l3.9 3.9l-3.9 3.9l-3.9 -3.9z" fill="#595959"/>
<path d="M246.2 276.4H33.4" stroke="#000" stroke-width="1.4" fill="none"/>
<path d="M27.9 276.4l6.5 -3.4v6.8z" fill="#000"/>
<path d="M245.5 277.1V183.6" stroke="#000" stroke-width="1.4" fill="none"/>
<path d="M245.5 178.1l-3.4 6.5h6.8z" fill="#000"/>
<text x="27.9" y="291.2" text-anchor="middle" class="t">-0.85</text>
<text x="64.2" y="291.2" text-anchor="middle" class="t">-0.84</text>
<text x="100.4" y="291.2" text-anchor="middle" class="t">-0.83</text>
<text x="136.7" y="291.2" text-anchor="middle" class="t">-0.82</text>
<text x="173.0" y="291.2" text-anchor="middle" class="t">-0.81</text>
<text x="209.3" y="291.2" text-anchor="middle" class="t">-0.8</text>
<text x="245.5" y="291.2" text-anchor="middle" class="t">-0.79</text>
<rect x="230.1" y="272.4" width="7.9" height="8" fill="#fff"/>
<text x="236.6" y="280.0" text-anchor="end" class="t" style="font-size:10.6px">0</text>
<rect x="224.8" y="252.8" width="13.2" height="8" fill="#fff"/>
<text x="236.6" y="260.3" text-anchor="end" class="t" style="font-size:10.6px">20</text>
<rect x="224.8" y="233.1" width="13.2" height="8" fill="#fff"/>
<text x="236.6" y="240.7" text-anchor="end" class="t" style="font-size:10.6px">40</text>
<rect x="224.8" y="213.4" width="13.2" height="8" fill="#fff"/>
<text x="236.6" y="221.0" text-anchor="end" class="t" style="font-size:10.6px">60</text>
<rect x="224.8" y="193.8" width="13.2" height="8" fill="#fff"/>
<text x="236.6" y="201.4" text-anchor="end" class="t" style="font-size:10.6px">80</text>
<rect x="219.5" y="174.1" width="18.5" height="8" fill="#fff"/>
<text x="236.6" y="181.7" text-anchor="end" class="t" style="font-size:10.6px">100</text>
<text x="141.8" y="303.3" text-anchor="middle" class="b" style="font-size:11.8px">NDI7</text>
<text transform="translate(18.2 230) rotate(-90)" text-anchor="middle" class="b">SSR (%)</text>
<text x="187" y="250.3" text-anchor="middle" class="e">y = 1549.1x + 1324.7</text>
<text x="187" y="261.8" text-anchor="middle" class="e">R² = 0.6255</text>
<text x="187" y="272.8" text-anchor="middle" class="e">RMSE = 13.50%</text>
<text x="135.7" y="330.7" text-anchor="middle" class="b" style="font-size:12.7px">(c)</text>
</g>
<g id="panel-d">
<path d="M276.5 309.2V172.2H547.0" fill="none" stroke="#8a8a8a" stroke-width="1.1"/>
<path d="M547.0 171.7V309.2H276.0" fill="none" stroke="#505050" stroke-width="1.2"/>
<path d="M297.6 177.4V278.4M336.4 177.4V278.4M375.1 177.4V278.4M413.9 177.4V278.4M452.6 177.4V278.4M491.4 177.4V278.4M530.1 177.4V278.4M297.6 278.4H530.1M297.6 258.2H530.1M297.6 238.0H530.1M297.6 217.8H530.1M297.6 197.6H530.1M297.6 177.4H530.1" stroke="#d9d9d9" stroke-width="1" fill="none"/>
<line x1="315.0" y1="261.2" x2="504.9" y2="200.5" stroke="#595959" stroke-width="0.9"/>
<path d="M347.7 198.5l3.9 3.9l-3.9 3.9l-3.9 -3.9zM336.2 215.7l3.9 3.9l-3.9 3.9l-3.9 -3.9zM359.2 214.6l3.9 3.9l-3.9 3.9l-3.9 -3.9zM367.0 219.5l3.9 3.9l-3.9 3.9l-3.9 -3.9zM335.6 223.9l3.9 3.9l-3.9 3.9l-3.9 -3.9zM344.4 223.9l3.9 3.9l-3.9 3.9l-3.9 -3.9zM361.3 223.6l3.9 3.9l-3.9 3.9l-3.9 -3.9zM358.0 227.7l3.9 3.9l-3.9 3.9l-3.9 -3.9zM365.4 228.5l3.9 3.9l-3.9 3.9l-3.9 -3.9zM369.5 231.7l3.9 3.9l-3.9 3.9l-3.9 -3.9zM315.5 227.7l3.9 3.9l-3.9 3.9l-3.9 -3.9zM319.5 231.7l3.9 3.9l-3.9 3.9l-3.9 -3.9zM341.6 232.6l3.9 3.9l-3.9 3.9l-3.9 -3.9zM348.2 233.4l3.9 3.9l-3.9 3.9l-3.9 -3.9zM384.2 220.3l3.9 3.9l-3.9 3.9l-3.9 -3.9zM380.9 226.8l3.9 3.9l-3.9 3.9l-3.9 -3.9zM315.5 227.5l3.9 3.9l-3.9 3.9l-3.9 -3.9zM319.9 231.6l3.9 3.9l-3.9 3.9l-3.9 -3.9zM315.5 237.2l3.9 3.9l-3.9 3.9l-3.9 -3.9zM321.2 236.8l3.9 3.9l-3.9 3.9l-3.9 -3.9zM332.6 236.8l3.9 3.9l-3.9 3.9l-3.9 -3.9zM339.2 237.6l3.9 3.9l-3.9 3.9l-3.9 -3.9zM341.6 234.4l3.9 3.9l-3.9 3.9l-3.9 -3.9zM345.7 237.6l3.9 3.9l-3.9 3.9l-3.9 -3.9zM349.0 235.2l3.9 3.9l-3.9 3.9l-3.9 -3.9zM353.1 237.6l3.9 3.9l-3.9 3.9l-3.9 -3.9zM359.6 236.8l3.9 3.9l-3.9 3.9l-3.9 -3.9zM360.5 227.0l3.9 3.9l-3.9 3.9l-3.9 -3.9zM358.0 228.6l3.9 3.9l-3.9 3.9l-3.9 -3.9zM365.4 229.5l3.9 3.9l-3.9 3.9l-3.9 -3.9zM370.3 232.7l3.9 3.9l-3.9 3.9l-3.9 -3.9zM367.0 235.2l3.9 3.9l-3.9 3.9l-3.9 -3.9zM375.2 237.6l3.9 3.9l-3.9 3.9l-3.9 -3.9zM380.9 227.0l3.9 3.9l-3.9 3.9l-3.9 -3.9zM384.2 223.7l3.9 3.9l-3.9 3.9l-3.9 -3.9zM346.6 249.1l3.9 3.9l-3.9 3.9l-3.9 -3.9zM352.3 253.2l3.9 3.9l-3.9 3.9l-3.9 -3.9zM354.7 252.4l3.9 3.9l-3.9 3.9l-3.9 -3.9zM357.2 245.0l3.9 3.9l-3.9 3.9l-3.9 -3.9zM360.5 246.6l3.9 3.9l-3.9 3.9l-3.9 -3.9zM365.4 248.3l3.9 3.9l-3.9 3.9l-3.9 -3.9zM369.5 244.2l3.9 3.9l-3.9 3.9l-3.9 -3.9zM362.1 241.7l3.9 3.9l-3.9 3.9l-3.9 -3.9zM383.4 241.7l3.9 3.9l-3.9 3.9l-3.9 -3.9zM360.5 256.5l3.9 3.9l-3.9 3.9l-3.9 -3.9zM365.4 259.7l3.9 3.9l-3.9 3.9l-3.9 -3.9zM353.9 262.2l3.9 3.9l-3.9 3.9l-3.9 -3.9zM357.2 265.5l3.9 3.9l-3.9 3.9l-3.9 -3.9zM361.3 267.1l3.9 3.9l-3.9 3.9l-3.9 -3.9zM363.7 270.4l3.9 3.9l-3.9 3.9l-3.9 -3.9zM370.3 268.7l3.9 3.9l-3.9 3.9l-3.9 -3.9zM373.6 258.1l3.9 3.9l-3.9 3.9l-3.9 -3.9zM378.5 252.4l3.9 3.9l-3.9 3.9l-3.9 -3.9zM383.4 254.8l3.9 3.9l-3.9 3.9l-3.9 -3.9zM384.2 260.6l3.9 3.9l-3.9 3.9l-3.9 -3.9zM331.3 270.9l3.9 3.9l-3.9 3.9l-3.9 -3.9zM338.4 269.6l3.9 3.9l-3.9 3.9l-3.9 -3.9zM344.1 266.3l3.9 3.9l-3.9 3.9l-3.9 -3.9zM345.7 268.7l3.9 3.9l-3.9 3.9l-3.9 -3.9zM396.3 208.0l3.9 3.9l-3.9 3.9l-3.9 -3.9zM391.4 212.9l3.9 3.9l-3.9 3.9l-3.9 -3.9zM394.6 216.2l3.9 3.9l-3.9 3.9l-3.9 -3.9zM385.6 220.3l3.9 3.9l-3.9 3.9l-3.9 -3.9zM382.4 224.4l3.9 3.9l-3.9 3.9l-3.9 -3.9zM380.7 228.5l3.9 3.9l-3.9 3.9l-3.9 -3.9zM388.9 226.0l3.9 3.9l-3.9 3.9l-3.9 -3.9zM395.5 226.0l3.9 3.9l-3.9 3.9l-3.9 -3.9zM393.0 230.9l3.9 3.9l-3.9 3.9l-3.9 -3.9zM384.8 232.6l3.9 3.9l-3.9 3.9l-3.9 -3.9zM415.1 198.2l3.9 3.9l-3.9 3.9l-3.9 -3.9zM426.6 196.6l3.9 3.9l-3.9 3.9l-3.9 -3.9zM414.3 202.3l3.9 3.9l-3.9 3.9l-3.9 -3.9zM419.2 203.9l3.9 3.9l-3.9 3.9l-3.9 -3.9zM424.1 202.3l3.9 3.9l-3.9 3.9l-3.9 -3.9zM427.4 205.6l3.9 3.9l-3.9 3.9l-3.9 -3.9zM408.6 210.5l3.9 3.9l-3.9 3.9l-3.9 -3.9zM406.1 213.7l3.9 3.9l-3.9 3.9l-3.9 -3.9zM414.3 212.1l3.9 3.9l-3.9 3.9l-3.9 -3.9zM411.8 216.2l3.9 3.9l-3.9 3.9l-3.9 -3.9zM414.3 218.7l3.9 3.9l-3.9 3.9l-3.9 -3.9zM436.4 201.5l3.9 3.9l-3.9 3.9l-3.9 -3.9zM441.3 203.1l3.9 3.9l-3.9 3.9l-3.9 -3.9zM446.2 201.5l3.9 3.9l-3.9 3.9l-3.9 -3.9zM451.1 199.8l3.9 3.9l-3.9 3.9l-3.9 -3.9zM453.6 207.2l3.9 3.9l-3.9 3.9l-3.9 -3.9zM460.1 205.6l3.9 3.9l-3.9 3.9l-3.9 -3.9zM464.2 201.5l3.9 3.9l-3.9 3.9l-3.9 -3.9zM443.7 213.7l3.9 3.9l-3.9 3.9l-3.9 -3.9zM450.3 215.4l3.9 3.9l-3.9 3.9l-3.9 -3.9zM452.7 218.7l3.9 3.9l-3.9 3.9l-3.9 -3.9zM424.1 222.7l3.9 3.9l-3.9 3.9l-3.9 -3.9zM431.5 223.6l3.9 3.9l-3.9 3.9l-3.9 -3.9zM424.1 226.8l3.9 3.9l-3.9 3.9l-3.9 -3.9zM423.3 230.9l3.9 3.9l-3.9 3.9l-3.9 -3.9zM411.0 229.3l3.9 3.9l-3.9 3.9l-3.9 -3.9zM414.3 231.7l3.9 3.9l-3.9 3.9l-3.9 -3.9zM401.2 231.7l3.9 3.9l-3.9 3.9l-3.9 -3.9zM464.2 221.1l3.9 3.9l-3.9 3.9l-3.9 -3.9zM418.9 267.1l3.9 3.9l-3.9 3.9l-3.9 -3.9zM405.3 263.0l3.9 3.9l-3.9 3.9l-3.9 -3.9zM410.2 261.4l3.9 3.9l-3.9 3.9l-3.9 -3.9zM427.4 238.5l3.9 3.9l-3.9 3.9l-3.9 -3.9zM415.9 240.1l3.9 3.9l-3.9 3.9l-3.9 -3.9zM418.4 235.2l3.9 3.9l-3.9 3.9l-3.9 -3.9zM424.1 231.1l3.9 3.9l-3.9 3.9l-3.9 -3.9zM424.1 226.2l3.9 3.9l-3.9 3.9l-3.9 -3.9zM431.5 224.6l3.9 3.9l-3.9 3.9l-3.9 -3.9zM424.1 222.9l3.9 3.9l-3.9 3.9l-3.9 -3.9zM412.6 231.1l3.9 3.9l-3.9 3.9l-3.9 -3.9zM407.7 232.7l3.9 3.9l-3.9 3.9l-3.9 -3.9zM401.2 235.2l3.9 3.9l-3.9 3.9l-3.9 -3.9zM396.3 231.9l3.9 3.9l-3.9 3.9l-3.9 -3.9zM391.4 230.3l3.9 3.9l-3.9 3.9l-3.9 -3.9zM384.8 227.0l3.9 3.9l-3.9 3.9l-3.9 -3.9zM379.9 227.0l3.9 3.9l-3.9 3.9l-3.9 -3.9zM396.3 226.2l3.9 3.9l-3.9 3.9l-3.9 -3.9zM388.1 235.2l3.9 3.9l-3.9 3.9l-3.9 -3.9zM383.2 240.1l3.9 3.9l-3.9 3.9l-3.9 -3.9zM389.7 241.7l3.9 3.9l-3.9 3.9l-3.9 -3.9zM396.3 243.4l3.9 3.9l-3.9 3.9l-3.9 -3.9zM393.0 246.6l3.9 3.9l-3.9 3.9l-3.9 -3.9zM386.5 245.0l3.9 3.9l-3.9 3.9l-3.9 -3.9zM377.5 251.6l3.9 3.9l-3.9 3.9l-3.9 -3.9zM383.2 253.2l3.9 3.9l-3.9 3.9l-3.9 -3.9zM390.5 254.0l3.9 3.9l-3.9 3.9l-3.9 -3.9zM386.5 258.9l3.9 3.9l-3.9 3.9l-3.9 -3.9zM380.7 259.7l3.9 3.9l-3.9 3.9l-3.9 -3.9zM393.8 264.7l3.9 3.9l-3.9 3.9l-3.9 -3.9zM375.0 257.3l3.9 3.9l-3.9 3.9l-3.9 -3.9zM375.0 238.5l3.9 3.9l-3.9 3.9l-3.9 -3.9zM467.6 187.2l3.9 3.9l-3.9 3.9l-3.9 -3.9zM474.5 190.5l3.9 3.9l-3.9 3.9l-3.9 -3.9zM481.8 192.5l3.9 3.9l-3.9 3.9l-3.9 -3.9zM480.2 195.7l3.9 3.9l-3.9 3.9l-3.9 -3.9zM484.3 196.6l3.9 3.9l-3.9 3.9l-3.9 -3.9zM491.6 198.2l3.9 3.9l-3.9 3.9l-3.9 -3.9zM505.6 205.6l3.9 3.9l-3.9 3.9l-3.9 -3.9zM487.6 207.5l3.9 3.9l-3.9 3.9l-3.9 -3.9zM485.1 222.7l3.9 3.9l-3.9 3.9l-3.9 -3.9zM467.1 199.8l3.9 3.9l-3.9 3.9l-3.9 -3.9zM466.3 203.9l3.9 3.9l-3.9 3.9l-3.9 -3.9zM469.5 206.4l3.9 3.9l-3.9 3.9l-3.9 -3.9zM473.6 202.3l3.9 3.9l-3.9 3.9l-3.9 -3.9zM476.9 200.6l3.9 3.9l-3.9 3.9l-3.9 -3.9zM482.6 200.6l3.9 3.9l-3.9 3.9l-3.9 -3.9zM472.0 205.6l3.9 3.9l-3.9 3.9l-3.9 -3.9zM452.4 199.8l3.9 3.9l-3.9 3.9l-3.9 -3.9zM447.5 201.5l3.9 3.9l-3.9 3.9l-3.9 -3.9zM453.2 207.2l3.9 3.9l-3.9 3.9l-3.9 -3.9zM459.7 205.6l3.9 3.9l-3.9 3.9l-3.9 -3.9zM445.0 200.6l3.9 3.9l-3.9 3.9l-3.9 -3.9zM450.7 215.4l3.9 3.9l-3.9 3.9l-3.9 -3.9zM453.2 218.7l3.9 3.9l-3.9 3.9l-3.9 -3.9zM465.5 220.3l3.9 3.9l-3.9 3.9l-3.9 -3.9zM467.9 217.8l3.9 3.9l-3.9 3.9l-3.9 -3.9zM390.9 230.6l3.9 3.9l-3.9 3.9l-3.9 -3.9zM387.6 238.8l3.9 3.9l-3.9 3.9l-3.9 -3.9zM394.2 240.5l3.9 3.9l-3.9 3.9l-3.9 -3.9zM397.5 235.6l3.9 3.9l-3.9 3.9l-3.9 -3.9zM384.4 243.7l3.9 3.9l-3.9 3.9l-3.9 -3.9zM402.4 233.9l3.9 3.9l-3.9 3.9l-3.9 -3.9zM390.9 260.1l3.9 3.9l-3.9 3.9l-3.9 -3.9zM394.2 264.2l3.9 3.9l-3.9 3.9l-3.9 -3.9zM385.2 258.5l3.9 3.9l-3.9 3.9l-3.9 -3.9zM406.5 266.7l3.9 3.9l-3.9 3.9l-3.9 -3.9zM359.8 244.6l3.9 3.9l-3.9 3.9l-3.9 -3.9zM364.7 241.3l3.9 3.9l-3.9 3.9l-3.9 -3.9zM356.5 260.1l3.9 3.9l-3.9 3.9l-3.9 -3.9z" fill="#595959"/>
<path d="M530.8 278.4H303.1" stroke="#000" stroke-width="1.4" fill="none"/>
<path d="M297.6 278.4l6.5 -3.4v6.8z" fill="#000"/>
<path d="M530.1 279.1V182.9" stroke="#000" stroke-width="1.4" fill="none"/>
<path d="M530.1 177.4l-3.4 6.5h6.8z" fill="#000"/>
<text x="297.6" y="292.7" text-anchor="middle" class="t">-0.67</text>
<text x="336.4" y="292.7" text-anchor="middle" class="t">-0.66</text>
<text x="375.1" y="292.7" text-anchor="middle" class="t">-0.65</text>
<text x="413.9" y="292.7" text-anchor="middle" class="t">-0.64</text>
<text x="452.6" y="292.7" text-anchor="middle" class="t">-0.63</text>
<text x="491.4" y="292.7" text-anchor="middle" class="t">-0.62</text>
<text x="530.1" y="292.7" text-anchor="middle" class="t">-0.61</text>
<rect x="516.0" y="274.4" width="7.3" height="8" fill="#fff"/>
<text x="521.9" y="281.5" text-anchor="end" class="t" style="font-size:9.4px">0</text>
<rect x="511.3" y="254.2" width="12.0" height="8" fill="#fff"/>
<text x="521.9" y="261.3" text-anchor="end" class="t" style="font-size:9.4px">20</text>
<rect x="511.3" y="234.0" width="12.0" height="8" fill="#fff"/>
<text x="521.9" y="241.1" text-anchor="end" class="t" style="font-size:9.4px">40</text>
<rect x="511.3" y="213.8" width="12.0" height="8" fill="#fff"/>
<text x="521.9" y="220.9" text-anchor="end" class="t" style="font-size:9.4px">60</text>
<rect x="511.3" y="193.6" width="12.0" height="8" fill="#fff"/>
<text x="521.9" y="200.7" text-anchor="end" class="t" style="font-size:9.4px">80</text>
<rect x="506.6" y="173.4" width="16.7" height="8" fill="#fff"/>
<text x="521.9" y="180.5" text-anchor="end" class="t" style="font-size:9.4px">100</text>
<text x="420" y="305.0" text-anchor="middle" class="b" style="font-size:11.8px">NDI5</text>
<text transform="translate(290.0 228) rotate(-90)" text-anchor="middle" class="b">SSR (%)</text>
<text x="469" y="252.5" text-anchor="middle" class="e">y = 1225.8x + 832.84</text>
<text x="469" y="263.2" text-anchor="middle" class="e">R² = 0.395</text>
<text x="469" y="274.6" text-anchor="middle" class="e">RMSE = 17.16%</text>
<text x="421.4" y="330.4" text-anchor="middle" class="b" style="font-size:12.7px">(d)</text>
</g>
<g id="panel-e">
<path d="M3.4 482.7V342.1H263.7" fill="none" stroke="#8a8a8a" stroke-width="1.1"/>
<path d="M263.7 341.6V482.7H2.9" fill="none" stroke="#505050" stroke-width="1.2"/>
<path d="M49.9 359.1V448.4M82.8 359.1V448.4M115.6 359.1V448.4M148.5 359.1V448.4M181.3 359.1V448.4M214.2 359.1V448.4M247.0 359.1V448.4M49.9 448.4H247.0M49.9 430.5H247.0M49.9 412.7H247.0M49.9 394.8H247.0M49.9 377.0H247.0M49.9 359.1H247.0" stroke="#d9d9d9" stroke-width="1" fill="none"/>
<line x1="84.4" y1="372.8" x2="227.3" y2="433.0" stroke="#595959" stroke-width="0.9"/>
<path d="M227.3 438.4l3.9 3.9l-3.9 3.9l-3.9 -3.9zM224.7 403.1l3.9 3.9l-3.9 3.9l-3.9 -3.9zM221.0 406.9l3.9 3.9l-3.9 3.9l-3.9 -3.9zM227.6 410.9l3.9 3.9l-3.9 3.9l-3.9 -3.9zM222.5 411.3l3.9 3.9l-3.9 3.9l-3.9 -3.9zM168.7 438.9l3.9 3.9l-3.9 3.9l-3.9 -3.9zM221.7 434.4l3.9 3.9l-3.9 3.9l-3.9 -3.9zM218.0 437.4l3.9 3.9l-3.9 3.9l-3.9 -3.9zM218.0 441.9l3.9 3.9l-3.9 3.9l-3.9 -3.9zM213.6 440.3l3.9 3.9l-3.9 3.9l-3.9 -3.9zM211.3 437.4l3.9 3.9l-3.9 3.9l-3.9 -3.9zM207.6 433.7l3.9 3.9l-3.9 3.9l-3.9 -3.9zM212.9 427.0l3.9 3.9l-3.9 3.9l-3.9 -3.9zM203.9 430.7l3.9 3.9l-3.9 3.9l-3.9 -3.9zM199.5 427.0l3.9 3.9l-3.9 3.9l-3.9 -3.9zM195.0 430.7l3.9 3.9l-3.9 3.9l-3.9 -3.9zM194.3 435.1l3.9 3.9l-3.9 3.9l-3.9 -3.9zM189.8 436.6l3.9 3.9l-3.9 3.9l-3.9 -3.9zM186.1 435.1l3.9 3.9l-3.9 3.9l-3.9 -3.9zM181.7 434.4l3.9 3.9l-3.9 3.9l-3.9 -3.9zM189.8 426.2l3.9 3.9l-3.9 3.9l-3.9 -3.9zM195.0 423.2l3.9 3.9l-3.9 3.9l-3.9 -3.9zM202.4 422.5l3.9 3.9l-3.9 3.9l-3.9 -3.9zM205.4 418.1l3.9 3.9l-3.9 3.9l-3.9 -3.9zM211.3 415.8l3.9 3.9l-3.9 3.9l-3.9 -3.9zM215.0 410.6l3.9 3.9l-3.9 3.9l-3.9 -3.9zM209.9 409.9l3.9 3.9l-3.9 3.9l-3.9 -3.9zM205.4 411.3l3.9 3.9l-3.9 3.9l-3.9 -3.9zM199.5 407.6l3.9 3.9l-3.9 3.9l-3.9 -3.9zM195.0 412.1l3.9 3.9l-3.9 3.9l-3.9 -3.9zM199.5 415.8l3.9 3.9l-3.9 3.9l-3.9 -3.9zM189.8 415.1l3.9 3.9l-3.9 3.9l-3.9 -3.9zM186.1 418.8l3.9 3.9l-3.9 3.9l-3.9 -3.9zM181.7 415.1l3.9 3.9l-3.9 3.9l-3.9 -3.9zM177.3 412.1l3.9 3.9l-3.9 3.9l-3.9 -3.9zM172.8 413.6l3.9 3.9l-3.9 3.9l-3.9 -3.9zM169.8 409.1l3.9 3.9l-3.9 3.9l-3.9 -3.9zM166.8 404.6l3.9 3.9l-3.9 3.9l-3.9 -3.9zM175.7 406.1l3.9 3.9l-3.9 3.9l-3.9 -3.9zM181.7 406.9l3.9 3.9l-3.9 3.9l-3.9 -3.9zM187.6 407.6l3.9 3.9l-3.9 3.9l-3.9 -3.9zM195.0 403.1l3.9 3.9l-3.9 3.9l-3.9 -3.9zM202.4 401.0l3.9 3.9l-3.9 3.9l-3.9 -3.9zM181.7 401.0l3.9 3.9l-3.9 3.9l-3.9 -3.9zM172.8 401.7l3.9 3.9l-3.9 3.9l-3.9 -3.9zM166.8 413.6l3.9 3.9l-3.9 3.9l-3.9 -3.9zM177.3 418.1l3.9 3.9l-3.9 3.9l-3.9 -3.9zM184.7 403.1l3.9 3.9l-3.9 3.9l-3.9 -3.9zM191.3 410.6l3.9 3.9l-3.9 3.9l-3.9 -3.9zM194.7 377.1l3.9 3.9l-3.9 3.9l-3.9 -3.9zM190.6 391.1l3.9 3.9l-3.9 3.9l-3.9 -3.9zM198.0 392.2l3.9 3.9l-3.9 3.9l-3.9 -3.9zM201.7 393.4l3.9 3.9l-3.9 3.9l-3.9 -3.9zM199.5 397.1l3.9 3.9l-3.9 3.9l-3.9 -3.9zM203.9 399.3l3.9 3.9l-3.9 3.9l-3.9 -3.9zM172.0 389.0l3.9 3.9l-3.9 3.9l-3.9 -3.9zM166.8 384.5l3.9 3.9l-3.9 3.9l-3.9 -3.9zM175.7 394.1l3.9 3.9l-3.9 3.9l-3.9 -3.9zM172.0 397.9l3.9 3.9l-3.9 3.9l-3.9 -3.9zM182.4 399.3l3.9 3.9l-3.9 3.9l-3.9 -3.9zM166.8 402.3l3.9 3.9l-3.9 3.9l-3.9 -3.9zM177.3 402.3l3.9 3.9l-3.9 3.9l-3.9 -3.9zM192.0 403.8l3.9 3.9l-3.9 3.9l-3.9 -3.9zM198.0 404.6l3.9 3.9l-3.9 3.9l-3.9 -3.9zM225.0 403.1l3.9 3.9l-3.9 3.9l-3.9 -3.9zM167.1 385.1l3.9 3.9l-3.9 3.9l-3.9 -3.9zM172.0 388.9l3.9 3.9l-3.9 3.9l-3.9 -3.9zM160.1 390.3l3.9 3.9l-3.9 3.9l-3.9 -3.9zM162.3 394.8l3.9 3.9l-3.9 3.9l-3.9 -3.9zM174.2 395.6l3.9 3.9l-3.9 3.9l-3.9 -3.9zM171.3 400.1l3.9 3.9l-3.9 3.9l-3.9 -3.9zM166.0 400.1l3.9 3.9l-3.9 3.9l-3.9 -3.9zM175.7 401.5l3.9 3.9l-3.9 3.9l-3.9 -3.9zM168.3 404.5l3.9 3.9l-3.9 3.9l-3.9 -3.9zM172.7 407.4l3.9 3.9l-3.9 3.9l-3.9 -3.9zM163.9 406.0l3.9 3.9l-3.9 3.9l-3.9 -3.9zM152.7 388.1l3.9 3.9l-3.9 3.9l-3.9 -3.9zM148.3 381.4l3.9 3.9l-3.9 3.9l-3.9 -3.9zM144.6 377.7l3.9 3.9l-3.9 3.9l-3.9 -3.9zM140.9 381.4l3.9 3.9l-3.9 3.9l-3.9 -3.9zM145.3 382.1l3.9 3.9l-3.9 3.9l-3.9 -3.9zM142.0 393.1l3.9 3.9l-3.9 3.9l-3.9 -3.9zM147.6 398.5l3.9 3.9l-3.9 3.9l-3.9 -3.9zM152.7 400.1l3.9 3.9l-3.9 3.9l-3.9 -3.9zM155.7 401.5l3.9 3.9l-3.9 3.9l-3.9 -3.9zM155.0 405.2l3.9 3.9l-3.9 3.9l-3.9 -3.9zM132.7 380.0l3.9 3.9l-3.9 3.9l-3.9 -3.9zM129.0 375.5l3.9 3.9l-3.9 3.9l-3.9 -3.9zM125.3 379.1l3.9 3.9l-3.9 3.9l-3.9 -3.9zM123.1 377.7l3.9 3.9l-3.9 3.9l-3.9 -3.9zM132.0 384.4l3.9 3.9l-3.9 3.9l-3.9 -3.9zM127.5 382.1l3.9 3.9l-3.9 3.9l-3.9 -3.9zM131.3 395.2l3.9 3.9l-3.9 3.9l-3.9 -3.9zM125.3 391.1l3.9 3.9l-3.9 3.9l-3.9 -3.9zM123.1 393.3l3.9 3.9l-3.9 3.9l-3.9 -3.9zM124.5 397.1l3.9 3.9l-3.9 3.9l-3.9 -3.9zM120.8 384.4l3.9 3.9l-3.9 3.9l-3.9 -3.9zM116.4 382.1l3.9 3.9l-3.9 3.9l-3.9 -3.9zM114.1 378.4l3.9 3.9l-3.9 3.9l-3.9 -3.9zM113.4 383.7l3.9 3.9l-3.9 3.9l-3.9 -3.9zM111.5 398.9l3.9 3.9l-3.9 3.9l-3.9 -3.9zM104.5 376.2l3.9 3.9l-3.9 3.9l-3.9 -3.9zM100.1 368.8l3.9 3.9l-3.9 3.9l-3.9 -3.9zM103.1 379.1l3.9 3.9l-3.9 3.9l-3.9 -3.9zM98.6 377.7l3.9 3.9l-3.9 3.9l-3.9 -3.9zM103.8 384.4l3.9 3.9l-3.9 3.9l-3.9 -3.9zM97.1 382.1l3.9 3.9l-3.9 3.9l-3.9 -3.9zM106.8 381.4l3.9 3.9l-3.9 3.9l-3.9 -3.9zM140.1 412.8l3.9 3.9l-3.9 3.9l-3.9 -3.9zM174.2 404.6l3.9 3.9l-3.9 3.9l-3.9 -3.9zM168.3 407.6l3.9 3.9l-3.9 3.9l-3.9 -3.9zM163.9 410.6l3.9 3.9l-3.9 3.9l-3.9 -3.9zM172.7 412.1l3.9 3.9l-3.9 3.9l-3.9 -3.9zM175.7 415.1l3.9 3.9l-3.9 3.9l-3.9 -3.9zM169.7 401.7l3.9 3.9l-3.9 3.9l-3.9 -3.9zM162.3 403.1l3.9 3.9l-3.9 3.9l-3.9 -3.9zM155.0 404.6l3.9 3.9l-3.9 3.9l-3.9 -3.9zM99.9 368.8l3.9 3.9l-3.9 3.9l-3.9 -3.9zM82.9 371.8l3.9 3.9l-3.9 3.9l-3.9 -3.9zM89.6 374.7l3.9 3.9l-3.9 3.9l-3.9 -3.9zM102.9 376.2l3.9 3.9l-3.9 3.9l-3.9 -3.9zM105.2 380.0l3.9 3.9l-3.9 3.9l-3.9 -3.9zM98.5 379.1l3.9 3.9l-3.9 3.9l-3.9 -3.9zM94.0 383.7l3.9 3.9l-3.9 3.9l-3.9 -3.9zM103.6 384.4l3.9 3.9l-3.9 3.9l-3.9 -3.9zM100.6 380.7l3.9 3.9l-3.9 3.9l-3.9 -3.9zM114.8 378.4l3.9 3.9l-3.9 3.9l-3.9 -3.9zM123.6 379.1l3.9 3.9l-3.9 3.9l-3.9 -3.9zM114.0 383.7l3.9 3.9l-3.9 3.9l-3.9 -3.9zM118.5 384.4l3.9 3.9l-3.9 3.9l-3.9 -3.9zM121.5 385.1l3.9 3.9l-3.9 3.9l-3.9 -3.9zM126.6 381.4l3.9 3.9l-3.9 3.9l-3.9 -3.9zM111.3 398.9l3.9 3.9l-3.9 3.9l-3.9 -3.9zM124.4 391.9l3.9 3.9l-3.9 3.9l-3.9 -3.9zM123.6 395.6l3.9 3.9l-3.9 3.9l-3.9 -3.9zM126.6 389.6l3.9 3.9l-3.9 3.9l-3.9 -3.9zM215.0 436.6l3.9 3.9l-3.9 3.9l-3.9 -3.9zM215.8 439.6l3.9 3.9l-3.9 3.9l-3.9 -3.9zM210.6 441.0l3.9 3.9l-3.9 3.9l-3.9 -3.9zM220.2 438.9l3.9 3.9l-3.9 3.9l-3.9 -3.9zM202.4 427.0l3.9 3.9l-3.9 3.9l-3.9 -3.9zM206.9 425.5l3.9 3.9l-3.9 3.9l-3.9 -3.9zM202.4 418.1l3.9 3.9l-3.9 3.9l-3.9 -3.9zM198.0 421.0l3.9 3.9l-3.9 3.9l-3.9 -3.9zM196.6 428.4l3.9 3.9l-3.9 3.9l-3.9 -3.9zM201.0 430.7l3.9 3.9l-3.9 3.9l-3.9 -3.9zM192.0 428.4l3.9 3.9l-3.9 3.9l-3.9 -3.9zM193.6 432.9l3.9 3.9l-3.9 3.9l-3.9 -3.9zM187.6 424.0l3.9 3.9l-3.9 3.9l-3.9 -3.9zM187.6 411.3l3.9 3.9l-3.9 3.9l-3.9 -3.9zM183.1 410.6l3.9 3.9l-3.9 3.9l-3.9 -3.9zM178.7 415.1l3.9 3.9l-3.9 3.9l-3.9 -3.9zM174.3 409.9l3.9 3.9l-3.9 3.9l-3.9 -3.9zM169.8 412.8l3.9 3.9l-3.9 3.9l-3.9 -3.9zM172.0 417.3l3.9 3.9l-3.9 3.9l-3.9 -3.9zM181.0 418.8l3.9 3.9l-3.9 3.9l-3.9 -3.9zM185.4 415.1l3.9 3.9l-3.9 3.9l-3.9 -3.9zM202.4 413.6l3.9 3.9l-3.9 3.9l-3.9 -3.9zM207.6 414.3l3.9 3.9l-3.9 3.9l-3.9 -3.9zM197.3 409.9l3.9 3.9l-3.9 3.9l-3.9 -3.9zM192.0 418.1l3.9 3.9l-3.9 3.9l-3.9 -3.9zM196.6 416.5l3.9 3.9l-3.9 3.9l-3.9 -3.9zM190.0 426.1l3.9 3.9l-3.9 3.9l-3.9 -3.9zM194.0 430.1l3.9 3.9l-3.9 3.9l-3.9 -3.9zM198.0 426.1l3.9 3.9l-3.9 3.9l-3.9 -3.9zM202.0 430.1l3.9 3.9l-3.9 3.9l-3.9 -3.9zM185.0 431.1l3.9 3.9l-3.9 3.9l-3.9 -3.9zM206.0 435.1l3.9 3.9l-3.9 3.9l-3.9 -3.9zM211.0 439.1l3.9 3.9l-3.9 3.9l-3.9 -3.9zM200.0 435.1l3.9 3.9l-3.9 3.9l-3.9 -3.9zM207.0 426.1l3.9 3.9l-3.9 3.9l-3.9 -3.9zM212.0 424.1l3.9 3.9l-3.9 3.9l-3.9 -3.9zM216.0 432.1l3.9 3.9l-3.9 3.9l-3.9 -3.9zM220.0 436.1l3.9 3.9l-3.9 3.9l-3.9 -3.9zM129.0 394.1l3.9 3.9l-3.9 3.9l-3.9 -3.9zM124.0 396.1l3.9 3.9l-3.9 3.9l-3.9 -3.9zM149.0 385.1l3.9 3.9l-3.9 3.9l-3.9 -3.9zM152.0 389.1l3.9 3.9l-3.9 3.9l-3.9 -3.9zM155.0 404.1l3.9 3.9l-3.9 3.9l-3.9 -3.9zM159.0 391.1l3.9 3.9l-3.9 3.9l-3.9 -3.9zM161.0 397.1l3.9 3.9l-3.9 3.9l-3.9 -3.9zM165.0 403.1l3.9 3.9l-3.9 3.9l-3.9 -3.9zM100.0 373.1l3.9 3.9l-3.9 3.9l-3.9 -3.9zM103.0 378.1l3.9 3.9l-3.9 3.9l-3.9 -3.9z" fill="#595959"/>
<path d="M49.2 448.4H241.5" stroke="#000" stroke-width="1.4" fill="none"/>
<path d="M247.0 448.4l-6.5 -3.4v6.8z" fill="#000"/>
<path d="M49.9 449.1V364.6" stroke="#000" stroke-width="1.4" fill="none"/>
<path d="M49.9 359.1l-3.4 6.5h6.8z" fill="#000"/>
<text x="49.9" y="463.8" text-anchor="middle" class="t">0.79</text>
<text x="82.8" y="463.8" text-anchor="middle" class="t">0.8</text>
<text x="115.6" y="463.8" text-anchor="middle" class="t">0.81</text>
<text x="148.5" y="463.8" text-anchor="middle" class="t">0.82</text>
<text x="181.3" y="463.8" text-anchor="middle" class="t">0.83</text>
<text x="214.2" y="463.8" text-anchor="middle" class="t">0.84</text>
<text x="247.0" y="463.8" text-anchor="middle" class="t">0.85</text>
<text x="41.6" y="451.5" text-anchor="end" class="t" style="font-size:9.2px">0</text>
<text x="41.6" y="433.6" text-anchor="end" class="t" style="font-size:9.2px">20</text>
<text x="41.6" y="415.8" text-anchor="end" class="t" style="font-size:9.2px">40</text>
<text x="41.6" y="397.9" text-anchor="end" class="t" style="font-size:9.2px">60</text>
<text x="41.6" y="380.0" text-anchor="end" class="t" style="font-size:9.2px">80</text>
<text x="41.6" y="362.2" text-anchor="end" class="t" style="font-size:9.2px">100</text>
<text x="155" y="477.5" text-anchor="middle" class="b" style="font-size:12px">SRNDI</text>
<text transform="translate(18.0 406) rotate(-90)" text-anchor="middle" class="b">SSR (%)</text>
<text x="97.8" y="423.8" text-anchor="middle" class="e">y = -1548.7x + 1324.4</text>
<text x="97.8" y="434.8" text-anchor="middle" class="e">R² = 0.6254</text>
<text x="97.8" y="445.8" text-anchor="middle" class="e">RMSE = 13.50%</text>
<text x="146.3" y="502.5" text-anchor="middle" class="b" style="font-size:12.7px">(e)</text>
</g>
<g id="panel-f">
<path d="M276.5 482.6V341.8H547.0" fill="none" stroke="#8a8a8a" stroke-width="1.1"/>
<path d="M547.0 341.3V482.6H276.0" fill="none" stroke="#505050" stroke-width="1.2"/>
<path d="M312.6 346.9V449.9M349.0 346.9V449.9M385.5 346.9V449.9M421.9 346.9V449.9M458.3 346.9V449.9M494.8 346.9V449.9M531.2 346.9V449.9M312.6 449.9H531.2M312.6 429.3H531.2M312.6 408.7H531.2M312.6 388.1H531.2M312.6 367.5H531.2M312.6 346.9H531.2" stroke="#d9d9d9" stroke-width="1" fill="none"/>
<line x1="330.1" y1="443.8" x2="493.3" y2="383.8" stroke="#595959" stroke-width="0.9"/>
<path d="M383.1 375.8l3.9 3.9l-3.9 3.9l-3.9 -3.9zM412.6 368.4l3.9 3.9l-3.9 3.9l-3.9 -3.9zM381.1 393.1l3.9 3.9l-3.9 3.9l-3.9 -3.9zM407.7 393.1l3.9 3.9l-3.9 3.9l-3.9 -3.9zM413.4 388.6l3.9 3.9l-3.9 3.9l-3.9 -3.9zM330.2 401.4l3.9 3.9l-3.9 3.9l-3.9 -3.9zM336.9 409.6l3.9 3.9l-3.9 3.9l-3.9 -3.9zM358.2 402.2l3.9 3.9l-3.9 3.9l-3.9 -3.9zM370.5 400.1l3.9 3.9l-3.9 3.9l-3.9 -3.9zM367.2 405.8l3.9 3.9l-3.9 3.9l-3.9 -3.9zM381.1 393.2l3.9 3.9l-3.9 3.9l-3.9 -3.9zM384.2 412.7l3.9 3.9l-3.9 3.9l-3.9 -3.9zM393.7 401.4l3.9 3.9l-3.9 3.9l-3.9 -3.9zM402.7 401.4l3.9 3.9l-3.9 3.9l-3.9 -3.9zM407.7 393.2l3.9 3.9l-3.9 3.9l-3.9 -3.9zM407.7 411.6l3.9 3.9l-3.9 3.9l-3.9 -3.9zM411.7 412.4l3.9 3.9l-3.9 3.9l-3.9 -3.9zM412.8 368.4l3.9 3.9l-3.9 3.9l-3.9 -3.9zM417.2 377.4l3.9 3.9l-3.9 3.9l-3.9 -3.9zM427.0 369.7l3.9 3.9l-3.9 3.9l-3.9 -3.9zM427.0 373.0l3.9 3.9l-3.9 3.9l-3.9 -3.9zM435.2 360.4l3.9 3.9l-3.9 3.9l-3.9 -3.9zM436.0 366.5l3.9 3.9l-3.9 3.9l-3.9 -3.9zM436.0 370.6l3.9 3.9l-3.9 3.9l-3.9 -3.9zM458.1 357.1l3.9 3.9l-3.9 3.9l-3.9 -3.9zM470.4 362.4l3.9 3.9l-3.9 3.9l-3.9 -3.9zM476.9 367.3l3.9 3.9l-3.9 3.9l-3.9 -3.9zM481.8 368.1l3.9 3.9l-3.9 3.9l-3.9 -3.9zM480.2 372.2l3.9 3.9l-3.9 3.9l-3.9 -3.9zM481.8 375.5l3.9 3.9l-3.9 3.9l-3.9 -3.9zM476.9 377.9l3.9 3.9l-3.9 3.9l-3.9 -3.9zM472.8 374.7l3.9 3.9l-3.9 3.9l-3.9 -3.9zM472.8 371.4l3.9 3.9l-3.9 3.9l-3.9 -3.9zM455.6 365.6l3.9 3.9l-3.9 3.9l-3.9 -3.9zM452.4 368.1l3.9 3.9l-3.9 3.9l-3.9 -3.9zM445.8 371.4l3.9 3.9l-3.9 3.9l-3.9 -3.9zM450.7 373.0l3.9 3.9l-3.9 3.9l-3.9 -3.9zM457.3 370.6l3.9 3.9l-3.9 3.9l-3.9 -3.9zM463.8 369.7l3.9 3.9l-3.9 3.9l-3.9 -3.9zM467.1 371.4l3.9 3.9l-3.9 3.9l-3.9 -3.9zM463.0 374.7l3.9 3.9l-3.9 3.9l-3.9 -3.9zM455.6 376.3l3.9 3.9l-3.9 3.9l-3.9 -3.9zM450.7 378.7l3.9 3.9l-3.9 3.9l-3.9 -3.9zM440.1 377.1l3.9 3.9l-3.9 3.9l-3.9 -3.9zM443.4 380.4l3.9 3.9l-3.9 3.9l-3.9 -3.9zM439.3 382.0l3.9 3.9l-3.9 3.9l-3.9 -3.9zM436.8 385.3l3.9 3.9l-3.9 3.9l-3.9 -3.9zM432.7 389.4l3.9 3.9l-3.9 3.9l-3.9 -3.9zM438.5 389.4l3.9 3.9l-3.9 3.9l-3.9 -3.9zM444.2 384.5l3.9 3.9l-3.9 3.9l-3.9 -3.9zM449.1 385.3l3.9 3.9l-3.9 3.9l-3.9 -3.9zM454.0 382.0l3.9 3.9l-3.9 3.9l-3.9 -3.9zM458.1 381.2l3.9 3.9l-3.9 3.9l-3.9 -3.9zM463.8 382.8l3.9 3.9l-3.9 3.9l-3.9 -3.9zM468.7 385.3l3.9 3.9l-3.9 3.9l-3.9 -3.9zM454.0 387.7l3.9 3.9l-3.9 3.9l-3.9 -3.9zM449.1 390.2l3.9 3.9l-3.9 3.9l-3.9 -3.9zM425.4 389.4l3.9 3.9l-3.9 3.9l-3.9 -3.9zM413.1 389.4l3.9 3.9l-3.9 3.9l-3.9 -3.9zM407.4 393.5l3.9 3.9l-3.9 3.9l-3.9 -3.9zM417.2 394.3l3.9 3.9l-3.9 3.9l-3.9 -3.9zM422.1 394.3l3.9 3.9l-3.9 3.9l-3.9 -3.9zM427.8 395.9l3.9 3.9l-3.9 3.9l-3.9 -3.9zM447.5 392.7l3.9 3.9l-3.9 3.9l-3.9 -3.9zM454.0 395.1l3.9 3.9l-3.9 3.9l-3.9 -3.9zM459.7 393.5l3.9 3.9l-3.9 3.9l-3.9 -3.9zM463.8 395.1l3.9 3.9l-3.9 3.9l-3.9 -3.9zM475.3 394.3l3.9 3.9l-3.9 3.9l-3.9 -3.9zM485.1 386.9l3.9 3.9l-3.9 3.9l-3.9 -3.9zM436.8 397.6l3.9 3.9l-3.9 3.9l-3.9 -3.9zM442.6 398.4l3.9 3.9l-3.9 3.9l-3.9 -3.9zM468.7 396.7l3.9 3.9l-3.9 3.9l-3.9 -3.9zM402.5 401.7l3.9 3.9l-3.9 3.9l-3.9 -3.9zM407.4 393.6l3.9 3.9l-3.9 3.9l-3.9 -3.9zM416.4 394.4l3.9 3.9l-3.9 3.9l-3.9 -3.9zM419.6 405.0l3.9 3.9l-3.9 3.9l-3.9 -3.9zM409.0 412.4l3.9 3.9l-3.9 3.9l-3.9 -3.9zM426.2 396.0l3.9 3.9l-3.9 3.9l-3.9 -3.9zM434.4 402.6l3.9 3.9l-3.9 3.9l-3.9 -3.9zM439.3 404.2l3.9 3.9l-3.9 3.9l-3.9 -3.9zM436.8 408.3l3.9 3.9l-3.9 3.9l-3.9 -3.9zM444.2 407.5l3.9 3.9l-3.9 3.9l-3.9 -3.9zM449.1 403.4l3.9 3.9l-3.9 3.9l-3.9 -3.9zM454.0 408.3l3.9 3.9l-3.9 3.9l-3.9 -3.9zM449.1 409.9l3.9 3.9l-3.9 3.9l-3.9 -3.9zM442.6 400.1l3.9 3.9l-3.9 3.9l-3.9 -3.9zM452.4 399.3l3.9 3.9l-3.9 3.9l-3.9 -3.9zM462.2 397.6l3.9 3.9l-3.9 3.9l-3.9 -3.9zM468.7 400.9l3.9 3.9l-3.9 3.9l-3.9 -3.9zM475.3 394.4l3.9 3.9l-3.9 3.9l-3.9 -3.9zM470.4 407.5l3.9 3.9l-3.9 3.9l-3.9 -3.9zM480.2 401.7l3.9 3.9l-3.9 3.9l-3.9 -3.9zM482.7 407.5l3.9 3.9l-3.9 3.9l-3.9 -3.9zM429.5 415.6l3.9 3.9l-3.9 3.9l-3.9 -3.9zM433.6 418.9l3.9 3.9l-3.9 3.9l-3.9 -3.9zM446.6 418.9l3.9 3.9l-3.9 3.9l-3.9 -3.9zM449.1 415.6l3.9 3.9l-3.9 3.9l-3.9 -3.9zM470.5 362.4l3.9 3.9l-3.9 3.9l-3.9 -3.9zM477.0 367.3l3.9 3.9l-3.9 3.9l-3.9 -3.9zM481.9 368.1l3.9 3.9l-3.9 3.9l-3.9 -3.9zM480.3 372.2l3.9 3.9l-3.9 3.9l-3.9 -3.9zM481.9 375.5l3.9 3.9l-3.9 3.9l-3.9 -3.9zM477.0 377.9l3.9 3.9l-3.9 3.9l-3.9 -3.9zM472.9 374.7l3.9 3.9l-3.9 3.9l-3.9 -3.9zM485.2 387.4l3.9 3.9l-3.9 3.9l-3.9 -3.9zM475.4 394.3l3.9 3.9l-3.9 3.9l-3.9 -3.9zM476.2 382.0l3.9 3.9l-3.9 3.9l-3.9 -3.9zM466.4 369.7l3.9 3.9l-3.9 3.9l-3.9 -3.9zM462.3 372.2l3.9 3.9l-3.9 3.9l-3.9 -3.9zM466.4 376.3l3.9 3.9l-3.9 3.9l-3.9 -3.9zM456.5 365.6l3.9 3.9l-3.9 3.9l-3.9 -3.9zM453.3 368.9l3.9 3.9l-3.9 3.9l-3.9 -3.9zM454.9 375.5l3.9 3.9l-3.9 3.9l-3.9 -3.9zM459.0 378.7l3.9 3.9l-3.9 3.9l-3.9 -3.9zM464.7 383.7l3.9 3.9l-3.9 3.9l-3.9 -3.9zM468.8 386.1l3.9 3.9l-3.9 3.9l-3.9 -3.9zM453.3 382.0l3.9 3.9l-3.9 3.9l-3.9 -3.9zM458.2 388.6l3.9 3.9l-3.9 3.9l-3.9 -3.9zM453.3 393.5l3.9 3.9l-3.9 3.9l-3.9 -3.9zM461.5 395.1l3.9 3.9l-3.9 3.9l-3.9 -3.9zM466.4 396.7l3.9 3.9l-3.9 3.9l-3.9 -3.9zM484.9 387.3l3.9 3.9l-3.9 3.9l-3.9 -3.9zM475.4 394.2l3.9 3.9l-3.9 3.9l-3.9 -3.9zM480.3 402.4l3.9 3.9l-3.9 3.9l-3.9 -3.9zM482.7 407.3l3.9 3.9l-3.9 3.9l-3.9 -3.9zM492.9 407.0l3.9 3.9l-3.9 3.9l-3.9 -3.9zM470.5 407.3l3.9 3.9l-3.9 3.9l-3.9 -3.9zM466.4 399.9l3.9 3.9l-3.9 3.9l-3.9 -3.9zM459.8 395.8l3.9 3.9l-3.9 3.9l-3.9 -3.9zM453.3 397.5l3.9 3.9l-3.9 3.9l-3.9 -3.9zM456.5 390.9l3.9 3.9l-3.9 3.9l-3.9 -3.9zM464.7 387.6l3.9 3.9l-3.9 3.9l-3.9 -3.9zM471.3 384.4l3.9 3.9l-3.9 3.9l-3.9 -3.9zM453.3 405.6l3.9 3.9l-3.9 3.9l-3.9 -3.9zM451.6 415.5l3.9 3.9l-3.9 3.9l-3.9 -3.9zM462.3 400.7l3.9 3.9l-3.9 3.9l-3.9 -3.9zM435.6 401.1l3.9 3.9l-3.9 3.9l-3.9 -3.9zM441.1 405.5l3.9 3.9l-3.9 3.9l-3.9 -3.9zM445.5 400.0l3.9 3.9l-3.9 3.9l-3.9 -3.9zM449.8 406.6l3.9 3.9l-3.9 3.9l-3.9 -3.9zM437.8 408.7l3.9 3.9l-3.9 3.9l-3.9 -3.9zM453.1 403.3l3.9 3.9l-3.9 3.9l-3.9 -3.9zM434.5 416.4l3.9 3.9l-3.9 3.9l-3.9 -3.9zM430.2 415.3l3.9 3.9l-3.9 3.9l-3.9 -3.9zM445.5 410.9l3.9 3.9l-3.9 3.9l-3.9 -3.9zM467.3 398.9l3.9 3.9l-3.9 3.9l-3.9 -3.9zM471.6 394.6l3.9 3.9l-3.9 3.9l-3.9 -3.9zM462.9 390.2l3.9 3.9l-3.9 3.9l-3.9 -3.9zM406.2 425.5l3.9 3.9l-3.9 3.9l-3.9 -3.9zM410.3 429.6l3.9 3.9l-3.9 3.9l-3.9 -3.9zM415.2 424.7l3.9 3.9l-3.9 3.9l-3.9 -3.9zM419.3 427.9l3.9 3.9l-3.9 3.9l-3.9 -3.9zM421.7 423.8l3.9 3.9l-3.9 3.9l-3.9 -3.9zM423.4 427.9l3.9 3.9l-3.9 3.9l-3.9 -3.9zM414.4 432.8l3.9 3.9l-3.9 3.9l-3.9 -3.9zM410.3 438.6l3.9 3.9l-3.9 3.9l-3.9 -3.9zM415.2 440.2l3.9 3.9l-3.9 3.9l-3.9 -3.9zM419.3 437.7l3.9 3.9l-3.9 3.9l-3.9 -3.9zM415.2 443.5l3.9 3.9l-3.9 3.9l-3.9 -3.9zM386.5 431.2l3.9 3.9l-3.9 3.9l-3.9 -3.9zM389.8 434.5l3.9 3.9l-3.9 3.9l-3.9 -3.9zM393.9 435.3l3.9 3.9l-3.9 3.9l-3.9 -3.9zM398.0 436.1l3.9 3.9l-3.9 3.9l-3.9 -3.9zM395.5 439.4l3.9 3.9l-3.9 3.9l-3.9 -3.9zM380.0 433.7l3.9 3.9l-3.9 3.9l-3.9 -3.9zM380.8 438.6l3.9 3.9l-3.9 3.9l-3.9 -3.9zM433.2 422.2l3.9 3.9l-3.9 3.9l-3.9 -3.9zM436.5 424.7l3.9 3.9l-3.9 3.9l-3.9 -3.9zM450.7 425.5l3.9 3.9l-3.9 3.9l-3.9 -3.9zM431.6 435.3l3.9 3.9l-3.9 3.9l-3.9 -3.9zM428.3 440.2l3.9 3.9l-3.9 3.9l-3.9 -3.9zM435.6 440.2l3.9 3.9l-3.9 3.9l-3.9 -3.9zM442.2 438.6l3.9 3.9l-3.9 3.9l-3.9 -3.9zM438.1 439.4l3.9 3.9l-3.9 3.9l-3.9 -3.9zM455.0 442.7l3.9 3.9l-3.9 3.9l-3.9 -3.9zM447.1 421.4l3.9 3.9l-3.9 3.9l-3.9 -3.9z" fill="#595959"/>
<path d="M311.9 449.9H525.7" stroke="#000" stroke-width="1.4" fill="none"/>
<path d="M531.2 449.9l-6.5 -3.4v6.8z" fill="#000"/>
<path d="M312.6 450.6V352.4" stroke="#000" stroke-width="1.4" fill="none"/>
<path d="M312.6 346.9l-3.4 6.5h6.8z" fill="#000"/>
<text x="312.6" y="464.2" text-anchor="middle" class="t">0.82</text>
<text x="349.0" y="464.2" text-anchor="middle" class="t">0.825</text>
<text x="385.5" y="464.2" text-anchor="middle" class="t">0.83</text>
<text x="421.9" y="464.2" text-anchor="middle" class="t">0.835</text>
<text x="458.3" y="464.2" text-anchor="middle" class="t">0.84</text>
<text x="494.8" y="464.2" text-anchor="middle" class="t">0.845</text>
<text x="531.2" y="464.2" text-anchor="middle" class="t">0.85</text>
<text x="304.5" y="453.0" text-anchor="end" class="t" style="font-size:9.2px">0</text>
<text x="304.5" y="432.4" text-anchor="end" class="t" style="font-size:9.2px">20</text>
<text x="304.5" y="411.8" text-anchor="end" class="t" style="font-size:9.2px">40</text>
<text x="304.5" y="391.2" text-anchor="end" class="t" style="font-size:9.2px">60</text>
<text x="304.5" y="370.6" text-anchor="end" class="t" style="font-size:9.2px">80</text>
<text x="304.5" y="350.0" text-anchor="end" class="t" style="font-size:9.2px">100</text>
<text x="431.3" y="478.0" text-anchor="middle" class="b" style="font-size:10.7px">MCRC</text>
<text transform="translate(290.0 400) rotate(-90)" text-anchor="middle" class="b">SSR (%)</text>
<text x="502" y="424.8" text-anchor="middle" class="e">y = 2597.7x - 2130.4</text>
<text x="502" y="435.6" text-anchor="middle" class="e">R² = 0.2319</text>
<text x="502" y="446.6" text-anchor="middle" class="e">MCRC = 19.33</text>
<text x="426.8" y="502.5" text-anchor="middle" class="b" style="font-size:12.7px">(f)</text>
</g>
</svg>
</body></html>
